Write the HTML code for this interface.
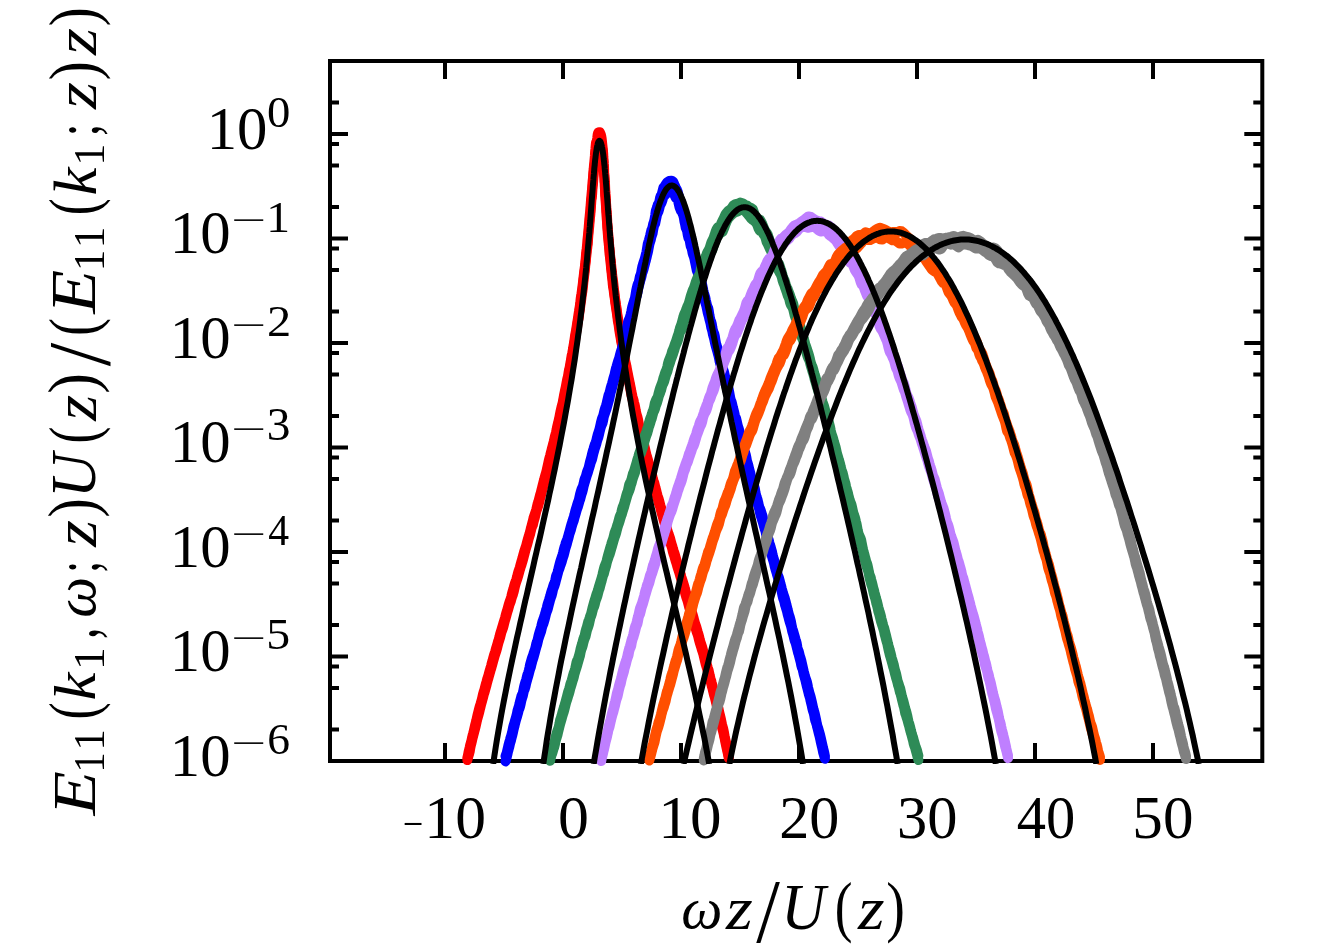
<!DOCTYPE html>
<html><head><meta charset="utf-8"><title>plot</title>
<style>html,body{margin:0;padding:0;background:#fff;}svg{display:block;}</style></head>
<body><svg width="1336" height="944" viewBox="0 0 1336 944">
<defs><clipPath id="ax"><rect x="330" y="0" width="932.3" height="764"/></clipPath></defs>
<rect width="1336" height="944" fill="#fff"/>
<rect x="330" y="61" width="932.3" height="700" fill="none" stroke="#000" stroke-width="4"/>
<path d="M445.0 761.0 V743.0 M445.0 61.0 V79.0 M563.0 761.0 V743.0 M563.0 61.0 V79.0 M681.0 761.0 V743.0 M681.0 61.0 V79.0 M799.0 761.0 V743.0 M799.0 61.0 V79.0 M917.0 761.0 V743.0 M917.0 61.0 V79.0 M1035.0 761.0 V743.0 M1035.0 61.0 V79.0 M1153.0 761.0 V743.0 M1153.0 61.0 V79.0 M330.0 134.0 H348.0 M1262.3 134.0 H1244.3 M330.0 238.5 H348.0 M1262.3 238.5 H1244.3 M330.0 343.0 H348.0 M1262.3 343.0 H1244.3 M330.0 447.5 H348.0 M1262.3 447.5 H1244.3 M330.0 552.0 H348.0 M1262.3 552.0 H1244.3 M330.0 656.5 H348.0 M1262.3 656.5 H1244.3 M330.0 761.0 H348.0 M1262.3 761.0 H1244.3 M330.0 729.5 H339.0 M1262.3 729.5 H1253.3 M330.0 688.0 H339.0 M1262.3 688.0 H1253.3 M330.0 666.6 H339.0 M1262.3 666.6 H1253.3 M330.0 625.0 H339.0 M1262.3 625.0 H1253.3 M330.0 583.5 H339.0 M1262.3 583.5 H1253.3 M330.0 562.1 H339.0 M1262.3 562.1 H1253.3 M330.0 520.5 H339.0 M1262.3 520.5 H1253.3 M330.0 479.0 H339.0 M1262.3 479.0 H1253.3 M330.0 457.6 H339.0 M1262.3 457.6 H1253.3 M330.0 416.0 H339.0 M1262.3 416.0 H1253.3 M330.0 374.5 H339.0 M1262.3 374.5 H1253.3 M330.0 353.1 H339.0 M1262.3 353.1 H1253.3 M330.0 311.5 H339.0 M1262.3 311.5 H1253.3 M330.0 270.0 H339.0 M1262.3 270.0 H1253.3 M330.0 248.6 H339.0 M1262.3 248.6 H1253.3 M330.0 207.0 H339.0 M1262.3 207.0 H1253.3 M330.0 165.5 H339.0 M1262.3 165.5 H1253.3 M330.0 144.1 H339.0 M1262.3 144.1 H1253.3 M330.0 102.5 H339.0 M1262.3 102.5 H1253.3" stroke="#000" stroke-width="4" fill="none"/>
<g fill="none" stroke-width="10" stroke-linecap="round" stroke-linejoin="round"><path d="M467.4 757.6 L468.0 755.1 L468.5 752.4 L469.1 749.8 L469.7 747.3 L470.2 744.9 L470.8 743.0 L471.4 740.8 L472.0 738.0 L472.6 735.4 L473.2 733.3 L473.8 731.0 L474.4 728.2 L475.0 725.6 L475.6 723.4 L476.2 721.0 L476.8 718.2 L477.4 715.5 L478.1 712.8 L478.7 710.3 L479.3 708.1 L479.9 705.9 L480.6 703.7 L481.2 701.6 L481.9 699.3 L482.5 696.4 L483.2 693.5 L483.8 691.4 L484.5 689.5 L485.1 687.0 L485.8 684.2 L486.5 681.8 L487.1 679.4 L487.8 677.3 L488.5 675.2 L489.1 672.6 L489.8 670.3 L490.5 668.1 L491.2 665.5 L491.8 663.0 L492.5 660.7 L493.2 658.1 L493.9 655.5 L494.6 653.5 L495.3 651.3 L496.0 648.5 L496.7 646.3 L497.4 644.0 L498.0 641.6 L498.7 639.8 L499.4 637.1 L500.1 634.0 L500.8 631.8 L501.5 629.7 L502.2 627.2 L502.9 624.9 L503.6 622.5 L504.3 620.3 L505.0 618.0 L505.7 615.1 L506.4 612.6 L507.2 610.2 L507.9 607.7 L508.6 605.0 L509.3 602.7 L510.0 600.7 L510.7 598.8 L511.4 596.2 L512.1 593.1 L512.8 590.7 L513.5 588.4 L514.2 585.7 L514.9 583.4 L515.6 581.6 L516.3 579.6 L517.0 577.1 L517.7 574.2 L518.4 571.7 L519.1 569.6 L519.8 567.5 L520.5 564.8 L521.2 562.2 L521.9 559.9 L522.6 557.5 L523.3 554.8 L524.0 552.3 L524.7 550.0 L525.4 547.9 L526.1 545.9 L526.7 543.5 L527.4 540.9 L528.1 538.4 L528.8 536.0 L529.5 533.8 L530.2 531.3 L530.8 528.6 L531.5 526.0 L532.2 523.4 L532.9 520.6 L533.5 518.0 L534.2 516.0 L534.9 513.9 L535.5 512.1 L536.2 510.0 L536.9 507.0 L537.5 504.2 L538.2 502.2 L538.8 499.9 L539.5 497.3 L540.1 494.9 L540.8 492.8 L541.4 490.2 L542.1 487.4 L542.7 485.0 L543.3 482.6 L544.0 480.1 L544.6 477.7 L545.2 475.5 L545.9 473.3 L546.5 471.0 L547.1 468.2 L547.7 465.6 L548.3 462.9 L548.9 460.1 L549.5 457.9 L550.1 455.7 L550.7 453.2 L551.3 450.9 L551.9 448.5 L552.5 446.3 L553.1 444.0 L553.7 441.7 L554.3 439.1 L554.9 436.4 L555.4 434.7 L556.0 432.5 L556.6 429.6 L557.1 426.8 L557.7 424.3 L558.3 421.9 L558.8 419.8 L559.4 417.2 L559.9 414.5 L560.4 411.9 L561.0 409.3 L561.5 407.1 L562.0 405.2 L562.6 402.9 L563.1 400.4 L563.6 397.7 L564.1 394.9 L564.6 392.4 L565.1 390.0 L565.6 387.7 L566.1 385.2 L566.6 382.5 L567.1 379.8 L567.6 377.8 L568.1 375.9 L568.5 373.0 L569.0 370.2 L569.5 368.4 L569.9 366.0 L570.4 363.0 L570.9 360.4 L571.3 357.8 L571.7 355.3 L572.2 353.4 L572.6 351.1 L573.1 348.4 L573.5 345.8 L573.9 343.5 L574.3 340.9 L574.7 338.3 L575.1 335.5 L575.5 333.3 L575.9 331.4 L576.3 328.8 L576.7 326.3 L577.1 323.7 L577.5 321.0 L577.9 318.7 L578.2 316.4 L578.6 313.8 L579.0 311.3 L579.3 309.1 L579.7 307.0 L580.0 304.5 L580.4 301.6 L580.7 298.5 L581.1 296.0 L581.4 294.3 L581.7 292.1 L582.1 289.3 L582.4 286.9 L582.7 284.6 L583.0 282.2 L583.3 279.5 L583.6 276.9 L583.9 274.4 L584.2 271.6 L584.5 269.3 L584.8 267.2 L585.1 265.0 L585.3 262.9 L585.6 259.9 L585.9 256.1 L586.1 253.3 L586.4 251.4 L586.7 248.8 L586.9 246.6 L587.2 244.1 L587.4 240.6 L587.7 237.8 L587.9 236.2 L588.1 234.1 L588.4 231.5 L588.6 228.8 L588.8 225.8 L589.1 223.1 L589.3 220.9 L589.5 218.1 L589.7 215.6 L589.9 213.8 L590.2 211.7 L590.4 208.9 L590.6 205.9 L590.8 203.1 L591.0 200.5 L591.2 198.2 L591.4 196.0 L591.6 193.6 L591.8 191.4 L592.0 189.7 L592.2 187.2 L592.4 183.8 L592.6 181.3 L592.9 178.9 L593.1 175.7 L593.3 172.7 L593.5 170.6 L593.7 168.9 L593.9 166.3 L594.2 163.5 L594.4 161.2 L594.6 159.2 L594.9 155.6 L595.1 151.7 L595.4 149.0 L595.7 145.6 L596.0 142.6 L596.4 142.2 L596.7 141.6 L597.2 138.4 L597.7 134.5 L598.3 132.5 L599.8 132.2 L600.8 134.5 L601.3 136.5 L601.7 138.9 L602.0 141.8 L602.3 144.8 L602.6 147.3 L602.8 149.1 L603.0 151.2 L603.2 153.9 L603.3 156.8 L603.5 159.3 L603.7 161.3 L603.8 163.8 L604.0 166.4 L604.1 169.1 L604.2 173.0 L604.4 175.7 L604.5 177.4 L604.7 180.0 L604.8 181.7 L605.0 183.3 L605.1 186.5 L605.2 189.7 L605.4 191.9 L605.5 194.1 L605.7 196.7 L605.8 199.9 L606.0 202.9 L606.2 205.3 L606.3 207.8 L606.5 210.5 L606.6 212.3 L606.8 214.1 L607.0 216.8 L607.2 220.4 L607.3 223.5 L607.5 225.7 L607.7 228.0 L607.9 230.2 L608.1 232.5 L608.3 234.8 L608.5 237.3 L608.7 240.3 L609.0 243.3 L609.2 245.6 L609.4 247.5 L609.6 249.6 L609.9 252.4 L610.1 255.7 L610.4 258.1 L610.6 260.1 L610.9 262.1 L611.1 264.4 L611.4 267.4 L611.7 270.3 L611.9 272.5 L612.2 274.8 L612.5 277.4 L612.8 279.6 L613.1 281.8 L613.4 284.4 L613.7 287.2 L614.0 290.0 L614.4 292.4 L614.7 295.3 L615.0 298.1 L615.3 299.9 L615.7 302.1 L616.0 304.8 L616.4 307.2 L616.7 309.5 L617.1 312.7 L617.5 315.6 L617.8 317.5 L618.2 319.4 L618.6 321.8 L619.0 324.4 L619.4 326.5 L619.8 329.2 L620.2 332.2 L620.6 334.7 L621.0 337.6 L621.4 340.3 L621.9 342.5 L622.3 345.1 L622.7 347.7 L623.2 349.6 L623.6 351.3 L624.1 353.7 L624.5 356.8 L625.0 359.9 L625.5 362.1 L625.9 363.8 L626.4 366.0 L626.9 368.8 L627.4 371.5 L627.9 374.0 L628.4 376.5 L628.9 379.0 L629.4 381.3 L629.9 383.7 L630.4 386.3 L630.9 388.8 L631.4 391.6 L632.0 394.4 L632.5 396.6 L633.0 398.3 L633.6 400.4 L634.1 402.8 L634.7 404.9 L635.2 407.5 L635.8 410.8 L636.4 413.5 L636.9 415.3 L637.5 417.3 L638.1 419.9 L638.6 422.6 L639.2 425.8 L639.8 428.6 L640.4 430.5 L641.0 432.1 L641.6 434.4 L642.2 437.2 L642.8 439.6 L643.4 441.9 L644.0 444.3 L644.6 446.9 L645.3 449.9 L645.9 452.7 L646.5 454.9 L647.1 456.9 L647.8 459.3 L648.4 461.6 L649.0 463.8 L649.7 466.1 L650.3 468.1 L651.0 470.7 L651.6 473.7 L652.3 476.2 L652.9 478.8 L653.6 481.0 L654.3 482.8 L654.9 485.3 L655.6 488.2 L656.3 490.7 L656.9 493.1 L657.6 495.8 L658.3 497.9 L658.9 499.7 L659.6 502.3 L660.3 505.2 L661.0 507.4 L661.7 509.5 L662.4 512.5 L663.1 515.3 L663.7 517.6 L664.4 519.5 L665.1 521.5 L665.8 524.3 L666.5 527.3 L667.2 529.7 L667.9 531.9 L668.6 534.0 L669.3 535.9 L670.0 538.1 L670.7 540.8 L671.4 543.5 L672.2 545.8 L672.9 548.5 L673.6 550.8 L674.3 552.7 L675.0 555.0 L675.7 557.6 L676.4 560.1 L677.1 562.3 L677.8 564.6 L678.5 567.0 L679.3 569.2 L680.0 571.6 L680.7 574.6 L681.4 577.1 L682.1 579.1 L682.8 581.5 L683.5 583.8 L684.3 586.3 L685.0 589.1 L685.7 591.6 L686.4 594.1 L687.1 596.3 L687.8 598.6 L688.5 600.9 L689.2 603.2 L689.9 605.8 L690.7 608.3 L691.4 610.8 L692.1 612.9 L692.8 615.0 L693.5 617.6 L694.2 620.4 L694.9 622.8 L695.6 624.8 L696.3 626.9 L697.0 629.3 L697.7 631.9 L698.4 634.0 L699.0 636.2 L699.7 639.3 L700.4 641.9 L701.1 643.7 L701.8 645.9 L702.5 648.4 L703.2 651.0 L703.8 653.6 L704.5 655.9 L705.2 658.4 L705.8 661.0 L706.5 663.4 L707.2 665.7 L707.8 667.8 L708.5 669.8 L709.1 672.6 L709.8 675.8 L710.4 678.2 L711.1 680.4 L711.7 682.8 L712.4 685.3 L713.0 688.0 L713.6 690.5 L714.2 692.2 L714.9 694.0 L715.5 696.5 L716.1 699.2 L716.7 702.3 L717.3 704.8 L717.9 706.6 L718.5 708.7 L719.1 711.7 L719.7 714.2 L720.2 716.1 L720.8 718.7 L721.4 721.5 L721.9 724.0 L722.5 726.2 L723.1 728.4 L723.6 730.6 L724.1 733.4 L724.7 736.7 L725.2 739.1 L725.7 741.0 L726.2 742.9 L726.8 745.2 L727.3 748.0 L727.8 750.8 L728.2 753.3 L728.7 755.8" stroke="#ff0000"/><path d="M467.4 760.1 L468.0 757.8 L468.5 755.8 L469.1 753.9 L469.7 751.6 L470.2 748.5 L470.8 745.6 L471.4 743.2 L472.0 740.7 L472.6 738.2 L473.2 735.8 L473.8 733.5 L474.4 731.3 L475.0 729.0 L475.6 726.5 L476.2 723.9 L476.8 721.2 L477.4 718.7 L478.1 716.4 L478.7 714.2 L479.3 711.9 L479.9 709.3 L480.6 706.7 L481.2 704.2 L481.9 701.7 L482.5 699.4 L483.2 696.9 L483.8 694.3 L484.5 692.3 L485.1 690.2 L485.8 687.7 L486.5 685.1 L487.1 682.6 L487.8 680.1 L488.5 677.8 L489.1 675.5 L489.8 673.1 L490.5 670.6 L491.2 668.4 L491.8 666.2 L492.5 663.6 L493.2 661.2 L493.9 658.7 L494.6 656.1 L495.3 654.0 L496.0 651.9 L496.7 649.5 L497.4 647.0 L498.0 644.3 L498.7 642.0 L499.4 639.9 L500.1 637.6 L500.8 634.8 L501.5 632.1 L502.2 630.2 L502.9 628.3 L503.6 625.9 L504.3 622.9 L505.0 620.2 L505.7 618.1 L506.4 615.4 L507.2 612.5 L507.9 610.3 L508.6 607.8 L509.3 605.3 L510.0 603.5 L510.7 601.6 L511.4 599.0 L512.1 596.8 L512.8 595.0 L513.5 592.5 L514.2 589.5 L514.9 586.6 L515.6 583.9 L516.3 581.7 L517.0 579.8 L517.7 577.5 L518.4 575.2 L519.1 572.7 L519.8 570.0 L520.5 567.7 L521.2 565.7 L521.9 563.4 L522.6 561.0 L523.3 558.4 L524.0 555.7 L524.7 553.2 L525.4 550.3 L526.1 547.9 L526.7 546.0 L527.4 543.8 L528.1 541.1 L528.8 538.3 L529.5 536.0 L530.2 533.7 L530.8 530.9 L531.5 528.3 L532.2 526.5 L532.9 524.8 L533.5 522.2 L534.2 519.5 L534.9 517.2 L535.5 514.6 L536.2 511.6 L536.9 509.6 L537.5 507.9 L538.2 505.8 L538.8 503.7 L539.5 501.1 L540.1 498.3 L540.8 495.8 L541.4 493.3 L542.1 490.6 L542.7 488.3 L543.3 486.5 L544.0 484.2 L544.6 481.3 L545.2 478.6 L545.9 476.5 L546.5 474.3 L547.1 471.8 L547.7 469.3 L548.3 466.4 L548.9 463.8 L549.5 461.7 L550.1 459.6 L550.7 457.0 L551.3 453.9 L551.9 451.4 L552.5 449.4 L553.1 446.7 L553.7 444.2 L554.3 442.4 L554.9 440.2 L555.4 437.5 L556.0 435.0 L556.6 432.7 L557.1 430.4 L557.7 427.8 L558.3 424.9 L558.8 422.3 L559.4 420.1 L559.9 417.8 L560.4 415.6 L561.0 413.1 L561.5 410.3 L562.0 407.9 L562.6 405.7 L563.1 403.4 L563.6 400.7 L564.1 398.3 L564.6 396.7 L565.1 394.8 L565.6 392.1 L566.1 389.0 L566.6 386.5 L567.1 384.2 L567.6 381.3 L568.1 378.4 L568.5 376.3 L569.0 373.9 L569.5 370.9 L569.9 367.9 L570.4 365.8 L570.9 363.9 L571.3 361.4 L571.7 359.0 L572.2 356.8 L572.6 354.4 L573.1 351.8 L573.5 349.3 L573.9 346.5 L574.3 343.9 L574.7 341.7 L575.1 339.7 L575.5 337.1 L575.9 334.2 L576.3 331.8 L576.7 329.6 L577.1 327.1 L577.5 324.0 L577.9 321.4 L578.2 319.9 L578.6 318.4 L579.0 315.7 L579.3 312.6 L579.7 310.5 L580.0 308.3 L580.4 305.2 L580.7 302.5 L581.1 300.5 L581.4 298.1 L581.7 295.3 L582.1 292.9 L582.4 291.1 L582.7 288.9 L583.0 285.9 L583.3 282.7 L583.6 279.7 L583.9 277.6 L584.2 275.4 L584.5 273.1 L584.8 270.7 L585.1 267.5 L585.3 264.7 L585.6 262.6 L585.9 260.1 L586.1 257.6 L586.4 255.1 L586.7 252.2 L586.9 249.7 L587.2 248.2 L587.4 246.3 L587.7 244.2 L587.9 241.9 L588.1 238.3 L588.4 234.7 L588.6 232.1 L588.8 229.9 L589.1 227.8 L589.3 225.3 L589.5 222.5 L589.7 220.2 L589.9 217.9 L590.2 215.7 L590.4 213.5 L590.6 210.8 L590.8 208.3 L591.0 205.7 L591.2 202.7 L591.4 200.1 L591.6 198.8 L591.8 197.8 L592.0 195.8 L592.2 192.9 L592.4 189.5 L592.6 186.7 L592.9 184.6 L593.1 181.9 L593.3 178.9 L593.5 176.4 L593.7 174.0 L593.9 171.4 L594.2 168.7 L594.4 166.0 L594.6 164.5 L594.9 163.3 L595.1 160.1 L595.4 157.0 L595.7 155.2 L596.0 152.5 L596.4 149.1 L596.7 147.1 L597.2 145.7 L597.7 143.2 L598.3 141.0 L599.8 139.6 L600.8 140.9 L601.3 142.8 L601.7 145.8 L602.0 148.2 L602.3 149.3 L602.6 151.5 L602.8 154.9 L603.0 158.2 L603.2 161.3 L603.3 163.3 L603.5 164.8 L603.7 167.4 L603.8 169.8 L604.0 172.1 L604.1 174.8 L604.2 176.3 L604.4 178.2 L604.5 181.0 L604.7 183.6 L604.8 186.5 L605.0 189.8 L605.1 192.9 L605.2 195.5 L605.4 197.0 L605.5 198.4 L605.7 200.9 L605.8 203.5 L606.0 206.2 L606.2 209.2 L606.3 211.2 L606.5 213.4 L606.6 216.6 L606.8 219.5 L607.0 221.9 L607.2 224.5 L607.3 227.1 L607.5 229.6 L607.7 232.4 L607.9 234.7 L608.1 237.0 L608.3 239.0 L608.5 240.9 L608.7 243.6 L609.0 246.4 L609.2 248.7 L609.4 251.3 L609.6 254.4 L609.9 256.5 L610.1 258.0 L610.4 260.3 L610.6 263.3 L610.9 266.0 L611.1 268.5 L611.4 271.0 L611.7 273.6 L611.9 276.1 L612.2 278.5 L612.5 281.2 L612.8 284.5 L613.1 287.1 L613.4 288.6 L613.7 290.5 L614.0 293.2 L614.4 295.9 L614.7 298.0 L615.0 300.5 L615.3 303.1 L615.7 305.3 L616.0 307.7 L616.4 310.0 L616.7 312.1 L617.1 314.7 L617.5 317.8 L617.8 320.6 L618.2 322.7 L618.6 324.8 L619.0 327.7 L619.4 330.8 L619.8 333.3 L620.2 335.3 L620.6 337.7 L621.0 340.3 L621.4 342.5 L621.9 344.6 L622.3 347.5 L622.7 350.6 L623.2 353.2 L623.6 355.5 L624.1 357.8 L624.5 360.2 L625.0 362.4 L625.5 365.2 L625.9 368.4 L626.4 370.5 L626.9 372.2 L627.4 374.7 L627.9 377.5 L628.4 380.0 L628.9 381.8 L629.4 383.7 L629.9 386.5 L630.4 389.4 L630.9 392.1 L631.4 394.8 L632.0 397.2 L632.5 399.3 L633.0 401.5 L633.6 404.5 L634.1 407.5 L634.7 409.6 L635.2 411.6 L635.8 414.2 L636.4 416.7 L636.9 418.6 L637.5 421.0 L638.1 423.8 L638.6 426.2 L639.2 428.4 L639.8 430.8 L640.4 433.2 L641.0 435.6 L641.6 437.9 L642.2 440.1 L642.8 442.9 L643.4 445.5 L644.0 447.5 L644.6 450.1 L645.3 452.6 L645.9 454.8 L646.5 457.2 L647.1 459.7 L647.8 462.9 L648.4 466.1 L649.0 468.2 L649.7 469.9 L650.3 472.2 L651.0 474.6 L651.6 477.1 L652.3 479.5 L652.9 481.6 L653.6 484.1 L654.3 486.8 L654.9 489.3 L655.6 491.4 L656.3 493.5 L656.9 496.2 L657.6 498.8 L658.3 501.1 L658.9 503.4 L659.6 505.2 L660.3 507.4 L661.0 510.6 L661.7 513.3 L662.4 515.5 L663.1 517.9 L663.7 520.4 L664.4 522.4 L665.1 524.6 L665.8 527.3 L666.5 529.8 L667.2 532.0 L667.9 534.6 L668.6 536.7 L669.3 539.0 L670.0 541.9 L670.7 544.1 L671.4 546.0 L672.2 548.7 L672.9 551.8 L673.6 554.2 L674.3 556.2 L675.0 558.7 L675.7 561.1 L676.4 563.2 L677.1 565.7 L677.8 568.0 L678.5 570.2 L679.3 572.6 L680.0 575.2 L680.7 577.6 L681.4 579.8 L682.1 582.4 L682.8 585.2 L683.5 587.7 L684.3 590.2 L685.0 592.7 L685.7 595.2 L686.4 597.6 L687.1 599.5 L687.8 601.7 L688.5 604.4 L689.2 607.3 L689.9 609.4 L690.7 610.7 L691.4 613.1 L692.1 616.2 L692.8 618.9 L693.5 621.2 L694.2 623.4 L694.9 625.9 L695.6 628.3 L696.3 630.7 L697.0 632.8 L697.7 634.7 L698.4 637.3 L699.0 639.9 L699.7 642.5 L700.4 644.7 L701.1 646.9 L701.8 649.4 L702.5 651.6 L703.2 653.7 L703.8 656.2 L704.5 659.1 L705.2 662.0 L705.8 664.5 L706.5 666.8 L707.2 669.2 L707.8 671.5 L708.5 673.8 L709.1 676.5 L709.8 678.9 L710.4 681.0 L711.1 683.2 L711.7 685.7 L712.4 688.0 L713.0 690.5 L713.6 693.2 L714.2 695.6 L714.9 697.8 L715.5 700.2 L716.1 702.8 L716.7 705.3 L717.3 707.8 L717.9 710.7 L718.5 713.2 L719.1 715.7 L719.7 717.8 L720.2 719.6 L720.8 722.0 L721.4 724.7 L721.9 727.1 L722.5 729.4 L723.1 731.5 L723.6 733.6 L724.1 736.0 L724.7 738.5 L725.2 741.3 L725.7 743.8 L726.2 746.2 L726.8 748.9 L727.3 751.3 L727.8 753.2 L728.2 755.3 L728.7 758.2" stroke="#ff0000"/><path d="M505.5 756.2 L506.2 754.3 L506.8 752.6 L507.4 749.9 L508.0 747.3 L508.6 744.7 L509.2 742.4 L509.9 740.1 L510.5 737.8 L511.1 736.0 L511.7 733.8 L512.4 731.0 L513.0 728.0 L513.6 725.5 L514.3 723.3 L514.9 721.1 L515.6 718.7 L516.2 716.5 L516.9 713.9 L517.5 710.7 L518.2 708.4 L518.8 706.6 L519.5 703.8 L520.1 701.1 L520.8 698.6 L521.4 696.1 L522.1 694.6 L522.8 693.2 L523.4 690.2 L524.1 686.7 L524.8 684.0 L525.4 682.1 L526.1 680.0 L526.8 677.2 L527.4 674.8 L528.1 673.0 L528.8 670.7 L529.5 667.6 L530.1 664.6 L530.8 662.0 L531.5 659.5 L532.2 657.3 L532.9 655.5 L533.6 653.4 L534.2 651.4 L534.9 649.7 L535.6 646.8 L536.3 643.7 L537.0 641.7 L537.7 639.5 L538.4 636.3 L539.1 633.6 L539.8 631.2 L540.5 629.0 L541.2 626.7 L541.9 623.6 L542.6 621.1 L543.3 619.4 L544.0 617.2 L544.7 615.0 L545.4 612.6 L546.1 610.3 L546.8 607.7 L547.5 604.7 L548.2 602.3 L548.9 600.3 L549.6 598.1 L550.3 595.7 L551.0 592.9 L551.7 590.6 L552.4 588.8 L553.1 586.3 L553.9 584.0 L554.6 582.5 L555.3 580.0 L556.0 576.5 L556.7 574.5 L557.4 573.0 L558.1 570.3 L558.8 567.2 L559.5 564.4 L560.2 561.8 L561.0 559.4 L561.7 557.2 L562.4 555.1 L563.1 552.5 L563.8 549.6 L564.5 547.1 L565.2 544.9 L565.9 542.5 L566.7 540.5 L567.4 538.7 L568.1 536.3 L568.8 533.7 L569.5 531.3 L570.2 528.7 L570.9 526.1 L571.6 523.8 L572.4 521.4 L573.1 519.0 L573.8 516.9 L574.5 514.3 L575.2 511.4 L575.9 508.9 L576.6 506.6 L577.3 504.3 L578.0 502.2 L578.8 500.0 L579.5 496.8 L580.2 493.6 L580.9 491.3 L581.6 489.1 L582.3 487.5 L583.0 486.0 L583.7 483.2 L584.4 479.9 L585.1 477.9 L585.8 476.5 L586.5 473.9 L587.2 471.3 L587.9 469.6 L588.6 467.8 L589.3 464.9 L590.0 461.8 L590.7 459.3 L591.4 456.8 L592.1 453.7 L592.8 451.1 L593.5 448.9 L594.2 446.5 L594.9 444.3 L595.6 442.7 L596.3 440.6 L597.0 437.4 L597.7 434.6 L598.4 432.5 L599.1 430.5 L599.7 428.1 L600.4 425.1 L601.1 421.9 L601.8 419.2 L602.5 417.3 L603.2 415.6 L603.8 413.1 L604.5 410.2 L605.2 407.9 L605.9 406.0 L606.6 403.6 L607.2 400.9 L607.9 398.0 L608.6 395.0 L609.3 393.2 L609.9 391.4 L610.6 388.2 L611.3 385.9 L611.9 384.1 L612.6 381.4 L613.3 378.8 L613.9 376.7 L614.6 374.5 L615.2 371.6 L615.9 368.6 L616.6 366.4 L617.2 364.2 L617.9 361.9 L618.5 360.1 L619.2 358.2 L619.8 355.6 L620.5 352.9 L621.1 350.9 L621.8 349.0 L622.4 346.7 L623.1 344.0 L623.7 340.8 L624.3 338.2 L625.0 335.7 L625.6 332.8 L626.2 330.4 L626.9 328.0 L627.5 325.1 L628.1 322.1 L628.8 320.0 L629.4 318.6 L630.0 317.0 L630.6 314.6 L631.3 311.5 L631.9 308.5 L632.5 306.0 L633.1 303.9 L633.8 301.7 L634.4 299.9 L635.0 297.9 L635.6 294.3 L636.2 290.5 L636.8 287.8 L637.4 285.3 L638.0 283.6 L638.7 282.5 L639.3 279.6 L639.9 276.4 L640.5 275.0 L641.1 273.1 L641.7 269.7 L642.3 266.6 L642.9 264.5 L643.5 262.7 L644.1 260.9 L644.7 259.0 L645.3 256.7 L645.9 254.3 L646.5 251.8 L647.1 248.1 L647.7 244.2 L648.3 242.1 L648.9 240.3 L649.5 238.0 L650.1 235.7 L650.8 232.6 L651.4 230.1 L652.0 229.0 L652.6 226.7 L653.2 223.9 L653.9 221.9 L654.5 219.5 L655.2 215.3 L655.8 210.9 L656.5 208.9 L657.1 207.1 L657.8 204.8 L658.5 203.7 L659.3 201.9 L660.0 198.1 L660.8 195.7 L661.6 194.8 L662.5 191.2 L663.4 187.6 L664.5 186.4 L665.7 184.5 L667.2 182.2 L669.2 181.0 L671.6 180.7 L673.3 181.9 L674.7 185.2 L675.9 187.9 L676.9 189.7 L677.8 192.1 L678.7 195.9 L679.5 199.2 L680.3 200.6 L681.0 202.7 L681.8 204.7 L682.5 206.8 L683.2 210.1 L683.9 213.2 L684.5 215.6 L685.2 217.0 L685.8 218.3 L686.5 220.9 L687.1 224.3 L687.7 227.5 L688.4 230.3 L689.0 232.5 L689.6 235.3 L690.2 237.8 L690.8 238.7 L691.4 239.6 L692.0 241.5 L692.6 245.1 L693.2 248.8 L693.8 251.3 L694.4 254.2 L695.0 257.3 L695.6 260.1 L696.2 262.0 L696.8 263.4 L697.4 265.5 L698.0 268.2 L698.6 270.5 L699.2 272.7 L699.8 275.8 L700.4 278.4 L701.0 279.9 L701.6 282.2 L702.2 284.8 L702.8 287.8 L703.4 290.8 L704.0 293.1 L704.6 295.1 L705.2 297.1 L705.8 300.0 L706.4 302.6 L707.0 305.1 L707.6 306.8 L708.2 308.1 L708.8 311.1 L709.4 315.0 L710.0 318.2 L710.6 320.2 L711.2 321.8 L711.8 324.1 L712.4 327.8 L713.0 330.7 L713.6 332.2 L714.2 333.6 L714.8 335.9 L715.4 339.9 L716.0 343.4 L716.6 345.4 L717.3 347.4 L717.9 349.2 L718.5 351.2 L719.1 353.8 L719.7 355.8 L720.3 358.2 L721.0 361.3 L721.6 364.1 L722.2 366.4 L722.8 368.4 L723.4 370.1 L724.1 372.3 L724.7 375.1 L725.3 377.3 L725.9 379.3 L726.6 381.8 L727.2 384.3 L727.8 386.4 L728.5 388.6 L729.1 391.5 L729.7 394.8 L730.3 398.2 L731.0 400.6 L731.6 401.9 L732.2 404.3 L732.9 407.4 L733.5 409.6 L734.2 412.2 L734.8 415.1 L735.4 416.8 L736.1 418.3 L736.7 420.9 L737.4 424.0 L738.0 426.5 L738.6 428.2 L739.3 430.7 L739.9 434.0 L740.6 436.5 L741.2 438.6 L741.9 441.4 L742.5 443.5 L743.1 445.2 L743.8 447.9 L744.4 450.8 L745.1 452.5 L745.7 454.4 L746.4 457.6 L747.0 461.1 L747.7 463.2 L748.3 465.2 L749.0 468.1 L749.6 470.4 L750.3 473.0 L750.9 475.9 L751.6 478.1 L752.3 479.8 L752.9 481.9 L753.6 484.5 L754.2 486.3 L754.9 488.8 L755.5 492.7 L756.2 495.6 L756.8 497.5 L757.5 499.4 L758.2 502.3 L758.8 505.3 L759.5 507.4 L760.1 508.8 L760.8 510.6 L761.4 512.8 L762.1 514.7 L762.8 517.2 L763.4 520.3 L764.1 522.8 L764.7 525.4 L765.4 528.4 L766.1 531.6 L766.7 533.9 L767.4 535.9 L768.0 538.1 L768.7 540.0 L769.3 542.5 L770.0 545.0 L770.7 547.0 L771.3 549.2 L772.0 551.6 L772.6 554.8 L773.3 557.6 L774.0 559.5 L774.6 561.6 L775.3 563.7 L775.9 565.8 L776.6 568.7 L777.2 572.4 L777.9 575.4 L778.6 576.9 L779.2 578.7 L779.9 581.3 L780.5 583.8 L781.2 586.4 L781.8 588.8 L782.5 591.2 L783.1 593.5 L783.8 595.5 L784.5 597.4 L785.1 599.6 L785.8 602.1 L786.4 604.6 L787.1 607.2 L787.7 609.8 L788.4 612.5 L789.0 614.9 L789.7 616.7 L790.3 619.0 L791.0 621.8 L791.6 625.1 L792.2 628.1 L792.9 630.1 L793.5 632.2 L794.2 634.6 L794.8 636.7 L795.5 639.3 L796.1 641.0 L796.7 643.3 L797.4 647.3 L798.0 649.8 L798.7 651.2 L799.3 653.5 L799.9 656.1 L800.6 658.2 L801.2 660.2 L801.8 662.9 L802.5 665.9 L803.1 668.6 L803.7 671.2 L804.4 673.8 L805.0 676.3 L805.6 678.1 L806.2 679.9 L806.9 681.7 L807.5 684.5 L808.1 687.7 L808.7 690.0 L809.3 692.4 L810.0 694.7 L810.6 696.7 L811.2 699.2 L811.8 701.7 L812.4 704.4 L813.0 707.3 L813.6 709.7 L814.2 711.5 L814.8 713.8 L815.4 716.6 L816.0 719.3 L816.6 722.4 L817.2 725.4 L817.8 727.2 L818.4 728.9 L819.0 731.0 L819.6 733.1 L820.2 735.3 L820.8 737.8 L821.4 740.5 L822.0 743.3 L822.6 745.9 L823.1 748.2 L823.7 750.3 L824.3 752.9 L824.9 756.0" stroke="#0000ff"/><path d="M505.5 761.4 L506.2 759.4 L506.8 757.0 L507.4 754.3 L508.0 751.5 L508.6 749.5 L509.2 747.3 L509.9 744.2 L510.5 742.0 L511.1 740.0 L511.7 737.3 L512.4 734.8 L513.0 732.3 L513.6 729.4 L514.3 726.8 L514.9 724.1 L515.6 721.5 L516.2 719.3 L516.9 717.1 L517.5 715.0 L518.2 712.4 L518.8 709.9 L519.5 708.4 L520.1 706.3 L520.8 703.3 L521.4 700.4 L522.1 698.0 L522.8 695.9 L523.4 693.1 L524.1 690.3 L524.8 688.9 L525.4 686.9 L526.1 683.6 L526.8 681.2 L527.4 679.0 L528.1 676.6 L528.8 674.2 L529.5 671.3 L530.1 669.2 L530.8 667.3 L531.5 664.4 L532.2 661.7 L532.9 659.3 L533.6 657.2 L534.2 655.0 L534.9 652.4 L535.6 649.8 L536.3 647.2 L537.0 645.0 L537.7 642.2 L538.4 639.1 L539.1 637.1 L539.8 634.9 L540.5 633.0 L541.2 631.0 L541.9 627.9 L542.6 625.5 L543.3 623.9 L544.0 621.7 L544.7 619.4 L545.4 616.5 L546.1 613.5 L546.8 611.5 L547.5 609.8 L548.2 607.3 L548.9 604.5 L549.6 601.9 L550.3 599.3 L551.0 597.2 L551.7 595.4 L552.4 592.5 L553.1 589.3 L553.9 587.2 L554.6 585.4 L555.3 583.1 L556.0 580.2 L556.7 577.6 L557.4 575.0 L558.1 572.1 L558.8 570.0 L559.5 568.3 L560.2 566.0 L561.0 563.9 L561.7 561.9 L562.4 559.3 L563.1 557.0 L563.8 555.0 L564.5 552.2 L565.2 549.3 L565.9 547.1 L566.7 544.5 L567.4 541.7 L568.1 539.4 L568.8 536.7 L569.5 533.9 L570.2 531.8 L570.9 529.8 L571.6 527.0 L572.4 524.3 L573.1 522.3 L573.8 520.4 L574.5 517.8 L575.2 515.3 L575.9 513.0 L576.6 510.4 L577.3 508.4 L578.0 506.5 L578.8 503.6 L579.5 501.1 L580.2 499.2 L580.9 496.5 L581.6 493.9 L582.3 492.0 L583.0 489.3 L583.7 486.0 L584.4 483.4 L585.1 481.2 L585.8 478.8 L586.5 476.5 L587.2 474.4 L587.9 472.3 L588.6 469.8 L589.3 467.7 L590.0 465.4 L590.7 462.8 L591.4 460.9 L592.1 459.1 L592.8 456.2 L593.5 453.2 L594.2 450.6 L594.9 448.2 L595.6 446.3 L596.3 444.1 L597.0 441.2 L597.7 439.0 L598.4 437.0 L599.1 434.3 L599.7 431.5 L600.4 428.8 L601.1 426.3 L601.8 424.7 L602.5 423.0 L603.2 420.0 L603.8 416.9 L604.5 414.6 L605.2 412.6 L605.9 410.6 L606.6 408.6 L607.2 406.5 L607.9 404.0 L608.6 401.5 L609.3 398.9 L609.9 395.9 L610.6 392.8 L611.3 390.6 L611.9 388.5 L612.6 385.6 L613.3 382.9 L613.9 381.2 L614.6 379.0 L615.2 376.3 L615.9 373.9 L616.6 371.8 L617.2 369.3 L617.9 366.2 L618.5 363.9 L619.2 362.2 L619.8 359.9 L620.5 357.1 L621.1 354.4 L621.8 352.0 L622.4 350.3 L623.1 348.2 L623.7 345.6 L624.3 343.8 L625.0 341.4 L625.6 338.4 L626.2 335.7 L626.9 332.3 L627.5 329.2 L628.1 327.2 L628.8 325.5 L629.4 323.3 L630.0 321.0 L630.6 318.3 L631.3 315.5 L631.9 313.4 L632.5 310.9 L633.1 308.4 L633.8 306.2 L634.4 303.3 L635.0 300.7 L635.6 298.7 L636.2 297.2 L636.8 295.5 L637.4 292.8 L638.0 289.5 L638.7 286.6 L639.3 284.6 L639.9 282.3 L640.5 279.8 L641.1 278.2 L641.7 275.6 L642.3 272.8 L642.9 271.3 L643.5 269.5 L644.1 267.1 L644.7 264.7 L645.3 262.3 L645.9 260.4 L646.5 257.9 L647.1 255.1 L647.7 252.9 L648.3 250.1 L648.9 246.8 L649.5 243.8 L650.1 242.0 L650.8 239.8 L651.4 237.0 L652.0 235.2 L652.6 233.4 L653.2 229.8 L653.9 226.2 L654.5 224.8 L655.2 223.4 L655.8 220.5 L656.5 217.2 L657.1 214.3 L657.8 213.0 L658.5 211.5 L659.3 208.7 L660.0 205.7 L660.8 204.1 L661.6 202.6 L662.5 200.0 L663.4 196.7 L664.5 195.4 L665.7 194.7 L667.2 191.1 L669.2 188.5 L671.6 189.1 L673.3 191.3 L674.7 195.5 L675.9 198.0 L676.9 197.7 L677.8 199.2 L678.7 203.7 L679.5 207.2 L680.3 209.3 L681.0 210.9 L681.8 211.9 L682.5 213.4 L683.2 215.0 L683.9 217.9 L684.5 221.6 L685.2 224.8 L685.8 228.0 L686.5 229.5 L687.1 231.0 L687.7 234.6 L688.4 237.8 L689.0 238.9 L689.6 240.0 L690.2 243.4 L690.8 246.4 L691.4 247.7 L692.0 249.8 L692.6 253.1 L693.2 255.1 L693.8 256.5 L694.4 258.8 L695.0 261.6 L695.6 264.6 L696.2 267.6 L696.8 270.5 L697.4 272.1 L698.0 273.5 L698.6 276.6 L699.2 279.9 L699.8 282.3 L700.4 284.4 L701.0 285.9 L701.6 288.1 L702.2 290.9 L702.8 292.3 L703.4 294.4 L704.0 298.0 L704.6 300.4 L705.2 302.2 L705.8 304.1 L706.4 306.3 L707.0 309.0 L707.6 312.2 L708.2 314.5 L708.8 316.4 L709.4 319.3 L710.0 321.5 L710.6 323.9 L711.2 327.2 L711.8 329.2 L712.4 331.6 L713.0 334.7 L713.6 336.8 L714.2 339.1 L714.8 342.1 L715.4 344.7 L716.0 346.8 L716.6 349.0 L717.3 351.4 L717.9 353.8 L718.5 355.8 L719.1 358.5 L719.7 361.8 L720.3 364.0 L721.0 366.4 L721.6 369.4 L722.2 371.0 L722.8 372.8 L723.4 375.2 L724.1 377.6 L724.7 380.7 L725.3 383.3 L725.9 384.8 L726.6 386.9 L727.2 389.7 L727.8 392.0 L728.5 394.2 L729.1 396.5 L729.7 398.4 L730.3 401.0 L731.0 403.9 L731.6 406.5 L732.2 408.8 L732.9 411.1 L733.5 413.8 L734.2 416.2 L734.8 418.0 L735.4 420.0 L736.1 422.7 L736.7 425.6 L737.4 428.0 L738.0 430.8 L738.6 433.9 L739.3 436.7 L739.9 438.9 L740.6 440.4 L741.2 442.5 L741.9 445.5 L742.5 448.2 L743.1 450.6 L743.8 453.0 L744.4 455.6 L745.1 458.1 L745.7 460.3 L746.4 462.5 L747.0 464.8 L747.7 467.1 L748.3 469.7 L749.0 472.1 L749.6 474.5 L750.3 477.2 L750.9 479.5 L751.6 481.7 L752.3 483.9 L752.9 486.5 L753.6 489.3 L754.2 491.0 L754.9 492.6 L755.5 495.1 L756.2 498.4 L756.8 501.5 L757.5 503.8 L758.2 505.7 L758.8 507.7 L759.5 510.3 L760.1 513.4 L760.8 515.8 L761.4 517.7 L762.1 520.1 L762.8 522.3 L763.4 524.3 L764.1 526.8 L764.7 528.9 L765.4 531.0 L766.1 534.2 L766.7 537.0 L767.4 538.8 L768.0 541.2 L768.7 544.4 L769.3 547.0 L770.0 549.6 L770.7 551.9 L771.3 553.9 L772.0 556.2 L772.6 558.5 L773.3 560.7 L774.0 563.2 L774.6 565.9 L775.3 568.6 L775.9 570.7 L776.6 572.8 L777.2 575.2 L777.9 577.6 L778.6 579.7 L779.2 582.1 L779.9 584.7 L780.5 587.1 L781.2 589.5 L781.8 592.3 L782.5 595.6 L783.1 598.1 L783.8 599.9 L784.5 602.4 L785.1 605.2 L785.8 607.2 L786.4 609.2 L787.1 611.6 L787.7 614.4 L788.4 616.9 L789.0 619.4 L789.7 621.8 L790.3 623.7 L791.0 625.8 L791.6 628.5 L792.2 631.3 L792.9 633.4 L793.5 635.7 L794.2 638.7 L794.8 640.9 L795.5 642.6 L796.1 644.6 L796.7 647.1 L797.4 649.8 L798.0 652.4 L798.7 654.6 L799.3 656.9 L799.9 659.3 L800.6 661.9 L801.2 665.0 L801.8 667.4 L802.5 668.9 L803.1 671.3 L803.7 674.2 L804.4 676.6 L805.0 678.8 L805.6 681.1 L806.2 683.6 L806.9 686.5 L807.5 688.9 L808.1 691.2 L808.7 693.7 L809.3 695.7 L810.0 697.9 L810.6 700.9 L811.2 703.5 L811.8 705.9 L812.4 708.8 L813.0 711.1 L813.6 712.7 L814.2 715.2 L814.8 718.6 L815.4 721.0 L816.0 722.5 L816.6 724.4 L817.2 727.0 L817.8 729.3 L818.4 731.7 L819.0 734.3 L819.6 736.5 L820.2 739.1 L820.8 742.1 L821.4 744.5 L822.0 747.0 L822.6 749.8 L823.1 752.3 L823.7 754.3 L824.3 756.5 L824.9 758.8" stroke="#0000ff"/><path d="M550.1 758.0 L550.7 755.2 L551.4 752.0 L552.1 749.9 L552.7 747.9 L553.4 745.9 L554.1 743.9 L554.8 741.1 L555.4 738.0 L556.1 735.1 L556.8 732.6 L557.5 730.6 L558.1 728.9 L558.8 727.0 L559.5 723.6 L560.1 720.1 L560.8 718.0 L561.5 715.9 L562.2 713.2 L562.9 710.7 L563.5 708.8 L564.2 706.6 L564.9 704.0 L565.6 701.6 L566.2 699.4 L566.9 696.8 L567.6 694.0 L568.3 691.3 L569.0 689.3 L569.7 687.1 L570.3 684.4 L571.0 682.3 L571.7 680.3 L572.4 677.8 L573.1 675.1 L573.8 672.8 L574.4 671.1 L575.1 668.9 L575.8 665.7 L576.5 662.4 L577.2 660.3 L577.9 659.0 L578.6 657.1 L579.3 654.4 L580.0 651.7 L580.6 648.9 L581.3 646.3 L582.0 644.1 L582.7 641.5 L583.4 638.9 L584.1 637.2 L584.8 635.0 L585.5 631.6 L586.2 628.9 L586.9 627.0 L587.6 624.2 L588.3 621.5 L589.0 619.9 L589.7 617.8 L590.4 615.5 L591.1 613.7 L591.8 610.8 L592.5 607.8 L593.2 605.3 L593.9 602.7 L594.6 600.4 L595.3 598.3 L596.0 595.8 L596.7 593.7 L597.4 592.0 L598.1 589.7 L598.8 587.1 L599.6 584.6 L600.3 582.3 L601.0 580.0 L601.7 577.6 L602.4 575.0 L603.1 572.0 L603.8 569.1 L604.5 566.5 L605.3 564.5 L606.0 562.9 L606.7 560.7 L607.4 557.7 L608.1 555.1 L608.8 552.6 L609.6 549.8 L610.3 547.4 L611.0 545.1 L611.7 542.6 L612.4 540.6 L613.2 538.4 L613.9 535.6 L614.6 532.8 L615.3 530.9 L616.1 529.1 L616.8 526.7 L617.5 524.6 L618.2 522.3 L619.0 519.1 L619.7 516.6 L620.4 515.1 L621.2 512.9 L621.9 509.7 L622.6 507.3 L623.4 505.4 L624.1 503.4 L624.8 501.0 L625.6 498.1 L626.3 495.2 L627.0 493.0 L627.8 491.1 L628.5 487.9 L629.2 484.6 L630.0 482.8 L630.7 481.4 L631.5 479.4 L632.2 476.5 L632.9 473.9 L633.7 472.1 L634.4 469.9 L635.2 467.3 L635.9 464.9 L636.7 462.3 L637.4 459.5 L638.2 457.1 L638.9 454.5 L639.7 452.2 L640.4 450.0 L641.2 447.5 L641.9 445.6 L642.7 443.5 L643.4 440.4 L644.2 437.5 L644.9 435.4 L645.7 433.6 L646.5 431.4 L647.2 429.0 L648.0 426.5 L648.7 423.7 L649.5 420.9 L650.3 418.3 L651.0 416.5 L651.8 414.3 L652.5 411.8 L653.3 410.0 L654.1 406.9 L654.8 403.3 L655.6 401.1 L656.4 399.3 L657.1 398.2 L657.9 396.4 L658.7 393.0 L659.5 390.0 L660.2 387.8 L661.0 385.7 L661.8 383.8 L662.6 381.2 L663.3 378.5 L664.1 376.2 L664.9 373.5 L665.7 371.3 L666.5 369.6 L667.3 366.8 L668.0 363.4 L668.8 360.8 L669.6 358.7 L670.4 356.9 L671.2 354.7 L672.0 351.7 L672.8 349.7 L673.6 347.9 L674.4 345.5 L675.2 343.3 L676.0 341.2 L676.8 338.7 L677.6 336.1 L678.4 334.1 L679.2 331.2 L680.0 327.9 L680.8 325.9 L681.6 323.5 L682.4 320.5 L683.2 317.4 L684.1 314.6 L684.9 312.8 L685.7 311.1 L686.5 308.7 L687.4 306.4 L688.2 304.9 L689.0 302.5 L689.9 299.3 L690.7 296.4 L691.6 293.7 L692.4 291.2 L693.2 289.3 L694.1 287.4 L695.0 284.7 L695.8 281.8 L696.7 279.6 L697.6 277.5 L698.4 276.3 L699.3 275.1 L700.2 272.1 L701.1 268.1 L702.0 264.5 L702.9 261.7 L703.8 260.1 L704.7 258.9 L705.7 256.6 L706.6 254.1 L707.6 251.8 L708.5 250.3 L709.5 248.4 L710.5 245.1 L711.5 242.0 L712.5 240.1 L713.5 238.2 L714.6 234.9 L715.6 231.6 L716.7 229.0 L717.8 227.4 L719.0 227.7 L720.1 226.6 L721.4 223.0 L722.6 220.6 L723.9 218.0 L725.3 214.7 L726.7 212.7 L728.2 210.9 L729.8 209.8 L731.5 208.4 L733.4 205.3 L735.4 204.2 L737.7 203.8 L740.1 202.6 L742.6 203.3 L745.0 204.8 L747.2 205.7 L749.2 207.3 L751.1 208.0 L752.8 209.1 L754.4 213.6 L755.8 217.4 L757.2 218.7 L758.6 219.1 L759.9 219.6 L761.1 221.6 L762.3 223.9 L763.4 226.8 L764.6 229.8 L765.7 231.5 L766.7 232.8 L767.8 234.7 L768.8 237.9 L769.8 240.8 L770.8 242.6 L771.8 245.7 L772.7 248.9 L773.7 249.8 L774.6 251.2 L775.5 254.6 L776.4 259.0 L777.3 262.1 L778.2 263.1 L779.1 264.1 L780.0 266.8 L780.9 269.7 L781.7 272.0 L782.6 275.4 L783.4 278.1 L784.3 279.7 L785.1 282.1 L785.9 285.0 L786.7 287.1 L787.6 288.7 L788.4 291.2 L789.2 293.2 L790.0 295.1 L790.8 297.8 L791.6 300.0 L792.4 301.6 L793.2 303.6 L793.9 307.0 L794.7 311.3 L795.5 314.3 L796.3 316.2 L797.0 318.0 L797.8 319.7 L798.6 321.9 L799.3 324.3 L800.1 326.0 L800.8 328.3 L801.6 331.3 L802.3 333.6 L803.1 335.8 L803.8 338.7 L804.6 341.5 L805.3 344.2 L806.1 346.3 L806.8 348.3 L807.5 350.8 L808.3 353.0 L809.0 355.2 L809.7 357.9 L810.4 361.0 L811.2 363.8 L811.9 365.7 L812.6 367.1 L813.3 369.4 L814.0 372.3 L814.7 374.8 L815.5 377.0 L816.2 379.6 L816.9 382.5 L817.6 384.6 L818.3 386.8 L819.0 390.1 L819.7 392.5 L820.4 394.4 L821.1 396.7 L821.8 399.2 L822.5 401.8 L823.2 403.8 L823.9 405.7 L824.6 408.1 L825.3 410.7 L825.9 413.5 L826.6 416.1 L827.3 418.3 L828.0 419.6 L828.7 421.3 L829.4 424.3 L830.1 427.2 L830.7 430.3 L831.4 433.5 L832.1 435.5 L832.8 437.5 L833.5 439.9 L834.1 442.2 L834.8 444.5 L835.5 446.7 L836.1 449.4 L836.8 452.5 L837.5 455.0 L838.2 457.4 L838.8 459.5 L839.5 461.7 L840.2 464.3 L840.8 467.0 L841.5 469.6 L842.2 471.6 L842.8 473.4 L843.5 476.2 L844.1 479.2 L844.8 481.3 L845.5 483.7 L846.1 486.8 L846.8 489.3 L847.4 491.2 L848.1 493.7 L848.7 496.7 L849.4 498.9 L850.0 500.7 L850.7 502.6 L851.4 504.3 L852.0 506.9 L852.7 510.1 L853.3 512.8 L854.0 514.7 L854.6 516.5 L855.3 518.8 L855.9 521.4 L856.6 524.1 L857.2 527.4 L857.8 530.8 L858.5 533.6 L859.1 535.2 L859.8 536.5 L860.4 537.9 L861.1 539.7 L861.7 542.9 L862.4 546.4 L863.0 549.3 L863.6 551.8 L864.3 554.1 L864.9 556.4 L865.6 559.1 L866.2 561.4 L866.9 563.1 L867.5 565.0 L868.1 567.8 L868.8 571.3 L869.4 574.1 L870.1 575.8 L870.7 577.5 L871.3 580.0 L872.0 582.6 L872.6 585.0 L873.2 587.6 L873.9 590.0 L874.5 592.5 L875.2 595.1 L875.8 597.4 L876.4 599.5 L877.1 601.8 L877.7 604.4 L878.3 607.1 L879.0 609.4 L879.6 611.7 L880.3 613.7 L880.9 616.0 L881.5 618.8 L882.2 621.3 L882.8 624.0 L883.4 626.2 L884.1 627.8 L884.7 630.2 L885.4 632.9 L886.0 635.2 L886.6 637.8 L887.3 640.7 L887.9 643.3 L888.5 645.6 L889.2 648.0 L889.8 650.3 L890.5 652.6 L891.1 655.2 L891.7 657.9 L892.4 660.1 L893.0 662.1 L893.7 664.4 L894.3 667.2 L894.9 669.9 L895.6 672.0 L896.2 674.3 L896.9 677.6 L897.5 680.5 L898.1 682.3 L898.8 684.4 L899.4 686.4 L900.1 688.1 L900.7 690.9 L901.4 693.9 L902.0 696.7 L902.7 698.8 L903.3 700.7 L904.0 703.4 L904.6 705.9 L905.2 708.2 L905.9 710.4 L906.5 712.6 L907.2 715.4 L907.9 718.7 L908.5 721.6 L909.2 723.6 L909.8 725.8 L910.5 728.5 L911.1 731.1 L911.8 733.7 L912.4 735.7 L913.1 737.6 L913.7 739.9 L914.4 742.4 L915.1 744.8 L915.7 747.0 L916.4 748.7 L917.1 750.7 L917.7 753.1 L918.4 755.7" stroke="#2e8b57"/><path d="M550.1 760.8 L550.7 758.1 L551.4 755.5 L552.1 753.7 L552.7 751.7 L553.4 749.3 L554.1 747.5 L554.8 744.8 L555.4 741.7 L556.1 739.4 L556.8 737.2 L557.5 734.8 L558.1 732.2 L558.8 729.3 L559.5 726.6 L560.1 724.1 L560.8 721.8 L561.5 719.4 L562.2 716.7 L562.9 714.5 L563.5 712.7 L564.2 710.4 L564.9 707.6 L565.6 704.6 L566.2 702.2 L566.9 700.3 L567.6 698.0 L568.3 695.8 L569.0 693.7 L569.7 691.2 L570.3 688.6 L571.0 686.4 L571.7 684.0 L572.4 681.6 L573.1 679.5 L573.8 677.1 L574.4 674.4 L575.1 672.0 L575.8 669.8 L576.5 667.7 L577.2 665.3 L577.9 662.7 L578.6 660.3 L579.3 657.9 L580.0 655.5 L580.6 652.4 L581.3 649.6 L582.0 647.9 L582.7 645.5 L583.4 642.5 L584.1 640.1 L584.8 638.2 L585.5 636.6 L586.2 633.7 L586.9 630.5 L587.6 628.4 L588.3 626.5 L589.0 624.3 L589.7 620.9 L590.4 617.8 L591.1 616.1 L591.8 614.0 L592.5 611.1 L593.2 608.5 L593.9 607.1 L594.6 605.0 L595.3 602.0 L596.0 599.8 L596.7 597.9 L597.4 596.0 L598.1 593.3 L598.8 590.5 L599.6 588.4 L600.3 585.8 L601.0 583.0 L601.7 580.7 L602.4 577.8 L603.1 575.4 L603.8 573.9 L604.5 571.2 L605.3 568.4 L606.0 566.0 L606.7 563.0 L607.4 560.5 L608.1 558.5 L608.8 556.4 L609.6 554.5 L610.3 552.3 L611.0 549.7 L611.7 547.4 L612.4 544.9 L613.2 542.1 L613.9 539.6 L614.6 537.5 L615.3 535.5 L616.1 533.2 L616.8 530.2 L617.5 527.5 L618.2 525.2 L619.0 523.1 L619.7 521.0 L620.4 518.4 L621.2 515.9 L621.9 514.1 L622.6 511.7 L623.4 509.1 L624.1 506.9 L624.8 504.2 L625.6 501.6 L626.3 499.2 L627.0 496.6 L627.8 494.2 L628.5 492.4 L629.2 490.8 L630.0 488.4 L630.7 485.7 L631.5 483.4 L632.2 480.7 L632.9 478.3 L633.7 476.1 L634.4 474.1 L635.2 472.0 L635.9 468.8 L636.7 465.8 L637.4 463.9 L638.2 461.3 L638.9 457.9 L639.7 455.3 L640.4 454.1 L641.2 452.6 L641.9 450.2 L642.7 448.1 L643.4 445.6 L644.2 442.8 L644.9 440.1 L645.7 437.3 L646.5 435.0 L647.2 433.3 L648.0 430.5 L648.7 427.5 L649.5 425.4 L650.3 423.0 L651.0 420.5 L651.8 418.4 L652.5 415.6 L653.3 412.6 L654.1 410.9 L654.8 409.3 L655.6 406.4 L656.4 404.2 L657.1 402.4 L657.9 399.7 L658.7 396.6 L659.5 394.4 L660.2 392.6 L661.0 390.4 L661.8 387.3 L662.6 384.8 L663.3 383.5 L664.1 381.6 L664.9 378.6 L665.7 375.8 L666.5 373.6 L667.3 371.6 L668.0 369.0 L668.8 366.0 L669.6 363.8 L670.4 361.4 L671.2 358.8 L672.0 356.8 L672.8 354.6 L673.6 352.2 L674.4 349.7 L675.2 346.9 L676.0 344.9 L676.8 343.2 L677.6 341.2 L678.4 338.6 L679.2 335.0 L680.0 332.3 L680.8 331.0 L681.6 329.8 L682.4 328.1 L683.2 324.9 L684.1 321.7 L684.9 319.4 L685.7 316.4 L686.5 314.4 L687.4 313.8 L688.2 311.4 L689.0 308.5 L689.9 306.7 L690.7 304.6 L691.6 302.0 L692.4 299.0 L693.2 295.4 L694.1 293.0 L695.0 292.5 L695.8 290.9 L696.7 287.8 L697.6 284.9 L698.4 282.2 L699.3 280.0 L700.2 278.7 L701.1 276.6 L702.0 273.8 L702.9 271.6 L703.8 269.6 L704.7 267.2 L705.7 264.2 L706.6 261.1 L707.6 260.1 L708.5 258.8 L709.5 255.2 L710.5 252.5 L711.5 251.3 L712.5 249.4 L713.5 246.0 L714.6 242.6 L715.6 240.5 L716.7 237.9 L717.8 235.9 L719.0 234.7 L720.1 232.9 L721.4 232.5 L722.6 231.9 L723.9 228.7 L725.3 224.8 L726.7 221.3 L728.2 218.6 L729.8 216.7 L731.5 215.0 L733.4 213.3 L735.4 212.2 L737.7 211.5 L740.1 210.1 L742.6 209.4 L745.0 210.8 L747.2 213.6 L749.2 216.0 L751.1 218.5 L752.8 220.0 L754.4 221.1 L755.8 222.3 L757.2 224.6 L758.6 228.7 L759.9 230.8 L761.1 230.7 L762.3 232.1 L763.4 234.2 L764.6 235.6 L765.7 238.4 L766.7 242.2 L767.8 244.2 L768.8 246.3 L769.8 248.7 L770.8 250.4 L771.8 252.7 L772.7 254.7 L773.7 256.9 L774.6 259.5 L775.5 262.3 L776.4 265.3 L777.3 267.8 L778.2 269.9 L779.1 271.5 L780.0 273.3 L780.9 274.8 L781.7 276.9 L782.6 280.5 L783.4 283.0 L784.3 285.0 L785.1 287.7 L785.9 289.8 L786.7 292.2 L787.6 295.1 L788.4 296.9 L789.2 298.8 L790.0 302.3 L790.8 304.7 L791.6 305.9 L792.4 307.3 L793.2 309.1 L793.9 312.1 L794.7 315.5 L795.5 317.7 L796.3 319.4 L797.0 322.6 L797.8 325.8 L798.6 327.6 L799.3 329.8 L800.1 333.0 L800.8 335.3 L801.6 336.9 L802.3 338.5 L803.1 340.2 L803.8 342.8 L804.6 345.7 L805.3 348.6 L806.1 351.5 L806.8 354.0 L807.5 356.3 L808.3 358.2 L809.0 359.6 L809.7 361.4 L810.4 364.3 L811.2 367.0 L811.9 369.5 L812.6 371.9 L813.3 373.9 L814.0 376.4 L814.7 379.4 L815.5 381.9 L816.2 384.3 L816.9 386.9 L817.6 389.0 L818.3 391.1 L819.0 394.3 L819.7 397.2 L820.4 399.2 L821.1 402.0 L821.8 405.0 L822.5 406.9 L823.2 408.8 L823.9 411.6 L824.6 413.6 L825.3 415.4 L825.9 417.9 L826.6 420.6 L827.3 422.9 L828.0 425.4 L828.7 427.9 L829.4 429.6 L830.1 431.8 L830.7 435.0 L831.4 437.9 L832.1 439.9 L832.8 441.9 L833.5 444.7 L834.1 447.6 L834.8 449.8 L835.5 451.4 L836.1 453.7 L836.8 455.9 L837.5 457.7 L838.2 460.7 L838.8 463.8 L839.5 465.8 L840.2 468.1 L840.8 471.2 L841.5 474.0 L842.2 476.0 L842.8 477.8 L843.5 480.4 L844.1 483.1 L844.8 484.9 L845.5 487.3 L846.1 490.5 L846.8 493.0 L847.4 494.0 L848.1 495.4 L848.7 498.1 L849.4 501.2 L850.0 504.3 L850.7 507.0 L851.4 509.2 L852.0 511.3 L852.7 513.8 L853.3 516.1 L854.0 518.5 L854.6 521.6 L855.3 524.9 L855.9 526.9 L856.6 528.1 L857.2 530.2 L857.8 532.6 L858.5 534.8 L859.1 537.3 L859.8 540.3 L860.4 543.1 L861.1 545.2 L861.7 547.1 L862.4 549.2 L863.0 551.8 L863.6 554.7 L864.3 557.6 L864.9 560.2 L865.6 562.5 L866.2 565.1 L866.9 567.5 L867.5 569.2 L868.1 570.8 L868.8 573.6 L869.4 577.1 L870.1 580.0 L870.7 582.2 L871.3 584.3 L872.0 586.4 L872.6 588.5 L873.2 591.1 L873.9 594.0 L874.5 596.4 L875.2 598.4 L875.8 600.9 L876.4 603.6 L877.1 605.9 L877.7 608.3 L878.3 611.2 L879.0 613.5 L879.6 615.8 L880.3 618.7 L880.9 621.0 L881.5 623.0 L882.2 625.1 L882.8 627.1 L883.4 629.0 L884.1 631.5 L884.7 634.4 L885.4 636.8 L886.0 639.3 L886.6 641.6 L887.3 643.8 L887.9 646.6 L888.5 649.5 L889.2 652.4 L889.8 655.0 L890.5 657.2 L891.1 659.2 L891.7 661.4 L892.4 664.0 L893.0 666.3 L893.7 668.4 L894.3 670.9 L894.9 673.4 L895.6 676.0 L896.2 678.4 L896.9 680.4 L897.5 682.8 L898.1 685.3 L898.8 687.2 L899.4 690.0 L900.1 692.7 L900.7 694.2 L901.4 696.9 L902.0 699.8 L902.7 702.4 L903.3 705.0 L904.0 707.0 L904.6 710.0 L905.2 713.2 L905.9 715.1 L906.5 717.1 L907.2 719.2 L907.9 721.6 L908.5 724.0 L909.2 726.2 L909.8 728.8 L910.5 731.5 L911.1 733.4 L911.8 735.8 L912.4 738.3 L913.1 740.7 L913.7 743.7 L914.4 745.9 L915.1 747.7 L915.7 750.2 L916.4 752.6 L917.1 755.1 L917.7 757.6 L918.4 760.0" stroke="#2e8b57"/><path d="M601.2 757.4 L601.8 754.9 L602.4 752.6 L603.0 750.2 L603.5 747.7 L604.1 744.9 L604.7 742.0 L605.3 739.7 L605.9 737.9 L606.5 736.2 L607.1 734.2 L607.7 731.5 L608.3 728.3 L608.9 725.6 L609.5 723.3 L610.1 721.1 L610.7 719.1 L611.3 716.4 L612.0 713.2 L612.6 710.9 L613.2 709.1 L613.8 706.6 L614.4 704.0 L615.1 701.7 L615.7 699.0 L616.3 696.2 L616.9 693.4 L617.6 690.9 L618.2 689.0 L618.8 686.4 L619.5 683.8 L620.1 681.7 L620.8 679.7 L621.4 677.3 L622.0 674.4 L622.7 671.6 L623.3 669.2 L624.0 666.9 L624.6 665.0 L625.3 662.9 L625.9 660.8 L626.6 658.8 L627.3 656.2 L627.9 653.4 L628.6 650.8 L629.2 648.3 L629.9 646.4 L630.6 643.8 L631.3 640.9 L631.9 638.8 L632.6 636.8 L633.3 634.3 L633.9 631.5 L634.6 628.3 L635.3 626.1 L636.0 624.7 L636.7 621.9 L637.4 618.8 L638.0 616.7 L638.7 614.0 L639.4 610.7 L640.1 608.0 L640.8 606.2 L641.5 604.6 L642.2 602.5 L642.9 600.0 L643.6 597.9 L644.3 595.1 L645.0 592.0 L645.7 589.7 L646.4 587.4 L647.1 584.8 L647.9 582.7 L648.6 580.6 L649.3 578.0 L650.0 575.3 L650.7 573.6 L651.4 571.8 L652.2 568.5 L652.9 565.6 L653.6 564.0 L654.3 562.1 L655.1 559.4 L655.8 556.7 L656.5 554.5 L657.3 551.8 L658.0 548.9 L658.7 546.8 L659.5 544.9 L660.2 543.0 L661.0 540.6 L661.7 538.1 L662.5 535.8 L663.2 533.4 L664.0 530.7 L664.7 527.5 L665.5 525.0 L666.2 523.1 L667.0 520.6 L667.7 518.2 L668.5 516.1 L669.3 513.6 L670.0 511.5 L670.8 509.1 L671.6 506.1 L672.3 504.7 L673.1 503.2 L673.9 500.1 L674.7 497.4 L675.4 495.6 L676.2 493.2 L677.0 490.0 L677.8 487.4 L678.6 485.4 L679.3 483.2 L680.1 480.9 L680.9 478.5 L681.7 475.8 L682.5 473.2 L683.3 470.6 L684.1 468.2 L684.9 466.1 L685.7 463.6 L686.5 461.4 L687.3 459.6 L688.1 456.8 L688.9 454.0 L689.8 452.1 L690.6 449.7 L691.4 447.4 L692.2 445.2 L693.0 442.8 L693.8 440.2 L694.7 437.6 L695.5 435.9 L696.3 433.6 L697.2 430.2 L698.0 428.0 L698.8 426.0 L699.7 422.9 L700.5 420.9 L701.3 419.6 L702.2 417.5 L703.0 415.3 L703.9 412.7 L704.7 409.8 L705.6 407.6 L706.4 405.5 L707.3 403.3 L708.2 400.6 L709.0 397.9 L709.9 395.8 L710.8 394.0 L711.6 391.2 L712.5 387.8 L713.4 385.4 L714.3 383.4 L715.2 380.9 L716.0 378.2 L716.9 375.8 L717.8 373.9 L718.7 372.3 L719.6 370.2 L720.5 368.0 L721.4 366.0 L722.3 363.9 L723.2 362.2 L724.2 359.4 L725.1 355.9 L726.0 352.1 L726.9 348.9 L727.9 347.5 L728.8 346.7 L729.7 344.5 L730.7 341.7 L731.6 339.7 L732.6 337.4 L733.5 334.0 L734.5 330.8 L735.4 328.9 L736.4 327.5 L737.4 325.4 L738.4 322.7 L739.4 320.0 L740.3 318.6 L741.3 316.8 L742.3 314.5 L743.4 312.4 L744.4 310.0 L745.4 306.5 L746.4 302.9 L747.4 301.0 L748.5 300.4 L749.5 298.4 L750.6 295.3 L751.7 292.5 L752.7 290.4 L753.8 288.1 L754.9 285.5 L756.0 283.8 L757.1 282.9 L758.3 279.9 L759.4 276.0 L760.5 273.1 L761.7 271.6 L762.9 270.7 L764.1 268.7 L765.3 265.8 L766.5 263.3 L767.7 260.6 L769.0 258.6 L770.3 257.6 L771.6 256.6 L772.9 254.5 L774.2 250.7 L775.6 248.2 L777.0 246.7 L778.4 243.6 L779.9 240.2 L781.3 238.5 L782.9 237.7 L784.4 236.2 L786.1 234.5 L787.7 233.4 L789.4 231.8 L791.2 229.2 L793.1 226.8 L795.0 225.1 L797.0 224.4 L799.1 223.4 L801.3 221.7 L803.6 220.2 L805.9 218.2 L808.4 216.4 L810.9 216.9 L813.4 218.8 L815.8 220.3 L818.3 221.1 L820.6 221.5 L822.8 222.9 L825.0 224.9 L827.0 225.5 L829.0 225.5 L830.8 227.0 L832.6 228.8 L834.3 230.4 L836.0 233.4 L837.6 235.9 L839.1 237.9 L840.6 240.4 L842.1 241.6 L843.5 242.7 L844.9 244.7 L846.3 246.9 L847.6 249.6 L848.9 252.7 L850.1 255.6 L851.4 257.6 L852.6 259.0 L853.8 260.1 L855.0 261.6 L856.1 264.1 L857.3 267.0 L858.4 270.0 L859.5 272.9 L860.6 275.7 L861.7 278.0 L862.8 279.8 L863.9 281.6 L864.9 283.8 L865.9 286.6 L867.0 288.6 L868.0 290.3 L869.0 293.6 L870.0 296.9 L871.0 298.0 L872.0 299.1 L873.0 300.8 L873.9 303.4 L874.9 306.9 L875.8 309.4 L876.8 312.1 L877.7 315.7 L878.7 317.9 L879.6 318.8 L880.5 321.2 L881.4 323.8 L882.3 325.9 L883.3 328.1 L884.2 330.6 L885.1 333.5 L885.9 335.7 L886.8 337.9 L887.7 340.6 L888.6 342.9 L889.5 344.8 L890.3 347.4 L891.2 350.2 L892.1 352.0 L892.9 353.5 L893.8 355.4 L894.6 357.6 L895.5 360.0 L896.3 362.9 L897.2 365.0 L898.0 366.7 L898.8 369.8 L899.7 373.0 L900.5 374.9 L901.3 377.2 L902.1 379.9 L903.0 381.7 L903.8 383.3 L904.6 385.9 L905.4 389.2 L906.2 392.4 L907.0 394.9 L907.8 396.4 L908.6 398.0 L909.4 400.2 L910.2 402.8 L911.0 405.1 L911.8 407.3 L912.6 410.4 L913.4 413.3 L914.2 415.6 L914.9 417.7 L915.7 419.4 L916.5 421.4 L917.3 424.5 L918.1 428.0 L918.8 430.4 L919.6 432.4 L920.4 434.9 L921.1 437.4 L921.9 440.0 L922.7 442.1 L923.4 444.1 L924.2 446.5 L924.9 448.4 L925.7 450.2 L926.4 452.7 L927.2 455.7 L927.9 458.4 L928.7 460.6 L929.4 463.3 L930.2 466.0 L930.9 467.9 L931.6 470.2 L932.4 473.5 L933.1 476.2 L933.9 477.6 L934.6 479.1 L935.3 481.8 L936.1 484.9 L936.8 487.6 L937.5 489.9 L938.2 491.8 L939.0 494.2 L939.7 496.9 L940.4 499.5 L941.1 502.0 L941.8 504.2 L942.5 505.9 L943.3 507.7 L944.0 510.1 L944.7 512.7 L945.4 515.6 L946.1 518.9 L946.8 521.6 L947.5 523.3 L948.2 525.1 L948.9 527.5 L949.6 530.3 L950.3 533.3 L951.0 535.7 L951.7 537.7 L952.4 539.4 L953.1 541.2 L953.8 543.7 L954.5 546.6 L955.1 549.5 L955.8 551.9 L956.5 554.0 L957.2 556.8 L957.9 559.6 L958.6 561.3 L959.2 563.4 L959.9 566.0 L960.6 568.4 L961.3 571.0 L961.9 574.2 L962.6 576.5 L963.3 578.1 L963.9 580.5 L964.6 583.3 L965.3 585.6 L965.9 587.9 L966.6 590.6 L967.3 593.2 L967.9 595.3 L968.6 597.6 L969.2 600.2 L969.9 602.6 L970.5 605.2 L971.2 607.8 L971.8 610.1 L972.5 612.3 L973.1 614.5 L973.8 616.5 L974.4 618.7 L975.1 621.4 L975.7 624.1 L976.3 626.3 L977.0 628.6 L977.6 631.6 L978.3 633.9 L978.9 636.2 L979.5 639.2 L980.1 641.6 L980.8 643.9 L981.4 646.6 L982.0 648.7 L982.7 651.2 L983.3 654.0 L983.9 655.8 L984.5 658.2 L985.1 660.8 L985.8 662.8 L986.4 665.3 L987.0 668.6 L987.6 671.3 L988.2 672.9 L988.8 675.1 L989.4 677.9 L990.0 680.0 L990.6 682.1 L991.2 684.9 L991.8 687.6 L992.4 690.2 L993.0 693.0 L993.6 695.4 L994.2 697.5 L994.8 699.5 L995.4 701.5 L996.0 704.1 L996.6 706.8 L997.2 709.1 L997.8 711.4 L998.3 714.1 L998.9 717.4 L999.5 720.1 L1000.1 721.7 L1000.7 723.8 L1001.2 726.5 L1001.8 729.2 L1002.4 731.6 L1003.0 733.6 L1003.5 735.9 L1004.1 738.2 L1004.7 740.6 L1005.2 743.2 L1005.8 745.7 L1006.3 748.3 L1006.9 751.0 L1007.5 753.5 L1008.0 755.7" stroke="#bf7fff"/><path d="M601.2 761.1 L601.8 758.3 L602.4 756.0 L603.0 753.6 L603.5 751.1 L604.1 748.9 L604.7 746.2 L605.3 743.2 L605.9 740.8 L606.5 738.7 L607.1 736.3 L607.7 733.3 L608.3 730.5 L608.9 728.7 L609.5 726.9 L610.1 724.2 L610.7 721.7 L611.3 719.0 L612.0 716.2 L612.6 714.3 L613.2 712.5 L613.8 710.1 L614.4 707.7 L615.1 705.1 L615.7 702.5 L616.3 700.1 L616.9 698.2 L617.6 696.3 L618.2 693.5 L618.8 690.5 L619.5 687.7 L620.1 685.5 L620.8 683.5 L621.4 680.5 L622.0 677.8 L622.7 675.7 L623.3 673.8 L624.0 671.4 L624.6 668.3 L625.3 666.2 L625.9 664.1 L626.6 661.1 L627.3 658.7 L627.9 657.1 L628.6 654.9 L629.2 651.5 L629.9 648.9 L630.6 647.5 L631.3 645.5 L631.9 642.0 L632.6 639.2 L633.3 637.6 L633.9 635.5 L634.6 633.1 L635.3 630.4 L636.0 627.6 L636.7 625.5 L637.4 623.9 L638.0 621.1 L638.7 617.4 L639.4 615.4 L640.1 613.9 L640.8 611.0 L641.5 608.0 L642.2 605.9 L642.9 603.8 L643.6 601.3 L644.3 598.8 L645.0 596.3 L645.7 594.1 L646.4 591.7 L647.1 589.1 L647.9 586.7 L648.6 584.8 L649.3 582.9 L650.0 580.3 L650.7 577.6 L651.4 575.4 L652.2 573.2 L652.9 571.0 L653.6 568.8 L654.3 566.7 L655.1 564.1 L655.8 561.0 L656.5 558.4 L657.3 556.4 L658.0 554.0 L658.7 551.0 L659.5 547.8 L660.2 545.4 L661.0 544.0 L661.7 542.3 L662.5 539.5 L663.2 536.8 L664.0 534.6 L664.7 532.2 L665.5 529.9 L666.2 527.5 L667.0 524.6 L667.7 521.7 L668.5 519.0 L669.3 516.6 L670.0 514.6 L670.8 512.9 L671.6 511.1 L672.3 508.9 L673.1 506.2 L673.9 503.5 L674.7 501.2 L675.4 498.9 L676.2 496.8 L677.0 494.2 L677.8 491.4 L678.6 489.2 L679.3 487.0 L680.1 484.8 L680.9 483.1 L681.7 480.9 L682.5 477.7 L683.3 474.5 L684.1 471.7 L684.9 469.8 L685.7 467.4 L686.5 464.7 L687.3 463.2 L688.1 461.2 L688.9 458.4 L689.8 455.8 L690.6 453.6 L691.4 451.4 L692.2 448.7 L693.0 446.9 L693.8 445.5 L694.7 442.8 L695.5 440.1 L696.3 437.3 L697.2 434.5 L698.0 432.6 L698.8 430.4 L699.7 427.8 L700.5 426.0 L701.3 424.4 L702.2 421.6 L703.0 418.0 L703.9 415.1 L704.7 413.3 L705.6 412.0 L706.4 410.2 L707.3 407.4 L708.2 404.1 L709.0 401.6 L709.9 399.8 L710.8 397.6 L711.6 395.0 L712.5 393.1 L713.4 391.2 L714.3 388.4 L715.2 385.0 L716.0 382.2 L716.9 380.8 L717.8 379.1 L718.7 376.6 L719.6 374.0 L720.5 371.8 L721.4 370.0 L722.3 367.7 L723.2 365.0 L724.2 362.2 L725.1 360.0 L726.0 357.9 L726.9 355.1 L727.9 352.5 L728.8 351.2 L729.7 349.8 L730.7 347.7 L731.6 345.4 L732.6 342.5 L733.5 339.2 L734.5 336.5 L735.4 335.0 L736.4 333.9 L737.4 331.7 L738.4 329.3 L739.4 326.9 L740.3 324.1 L741.3 321.6 L742.3 319.6 L743.4 317.8 L744.4 315.6 L745.4 313.2 L746.4 310.4 L747.4 307.6 L748.5 305.1 L749.5 303.2 L750.6 301.0 L751.7 297.9 L752.7 296.9 L753.8 296.3 L754.9 292.7 L756.0 289.3 L757.1 288.1 L758.3 286.8 L759.4 284.3 L760.5 281.9 L761.7 279.5 L762.9 278.1 L764.1 277.4 L765.3 273.9 L766.5 270.1 L767.7 268.1 L769.0 266.7 L770.3 265.1 L771.6 263.1 L772.9 259.9 L774.2 257.1 L775.6 255.7 L777.0 253.8 L778.4 250.9 L779.9 248.2 L781.3 246.4 L782.9 245.1 L784.4 243.1 L786.1 240.9 L787.7 239.9 L789.4 238.3 L791.2 235.6 L793.1 233.8 L795.0 233.1 L797.0 231.5 L799.1 228.7 L801.3 227.4 L803.6 226.7 L805.9 227.2 L808.4 227.8 L810.9 227.1 L813.4 226.7 L815.8 227.8 L818.3 230.2 L820.6 231.6 L822.8 231.1 L825.0 230.1 L827.0 231.7 L829.0 234.8 L830.8 236.2 L832.6 237.5 L834.3 239.1 L836.0 240.7 L837.6 243.3 L839.1 245.7 L840.6 247.2 L842.1 248.9 L843.5 250.9 L844.9 253.1 L846.3 256.2 L847.6 259.1 L848.9 260.9 L850.1 262.6 L851.4 263.2 L852.6 264.1 L853.8 267.4 L855.0 270.2 L856.1 272.1 L857.3 273.7 L858.4 275.2 L859.5 278.1 L860.6 281.9 L861.7 284.4 L862.8 285.2 L863.9 287.4 L864.9 290.4 L865.9 292.9 L867.0 295.7 L868.0 297.2 L869.0 298.7 L870.0 302.2 L871.0 304.5 L872.0 305.9 L873.0 308.5 L873.9 311.2 L874.9 313.4 L875.8 314.6 L876.8 316.2 L877.7 319.6 L878.7 323.2 L879.6 326.3 L880.5 328.4 L881.4 329.6 L882.3 330.9 L883.3 332.8 L884.2 335.0 L885.1 337.2 L885.9 339.0 L886.8 340.9 L887.7 344.2 L888.6 348.0 L889.5 351.3 L890.3 352.9 L891.2 354.3 L892.1 356.3 L892.9 358.1 L893.8 359.9 L894.6 362.6 L895.5 366.3 L896.3 368.6 L897.2 370.0 L898.0 372.7 L898.8 375.8 L899.7 378.2 L900.5 380.0 L901.3 381.7 L902.1 384.0 L903.0 387.0 L903.8 389.6 L904.6 391.1 L905.4 393.4 L906.2 396.4 L907.0 398.8 L907.8 401.4 L908.6 404.0 L909.4 406.7 L910.2 409.4 L911.0 411.5 L911.8 413.2 L912.6 414.7 L913.4 417.1 L914.2 420.4 L914.9 423.6 L915.7 426.3 L916.5 428.6 L917.3 430.1 L918.1 432.2 L918.8 434.7 L919.6 436.7 L920.4 438.6 L921.1 440.9 L921.9 443.6 L922.7 445.8 L923.4 448.0 L924.2 450.4 L924.9 453.0 L925.7 455.4 L926.4 457.6 L927.2 459.6 L927.9 462.3 L928.7 465.2 L929.4 467.3 L930.2 469.5 L930.9 471.4 L931.6 473.4 L932.4 476.6 L933.1 479.3 L933.9 481.4 L934.6 483.9 L935.3 485.9 L936.1 488.2 L936.8 490.8 L937.5 493.8 L938.2 496.5 L939.0 498.3 L939.7 500.9 L940.4 503.3 L941.1 504.5 L941.8 506.8 L942.5 510.1 L943.3 512.7 L944.0 515.4 L944.7 518.0 L945.4 519.7 L946.1 521.1 L946.8 523.3 L947.5 526.3 L948.2 529.2 L948.9 531.8 L949.6 534.1 L950.3 536.5 L951.0 539.7 L951.7 542.5 L952.4 544.2 L953.1 545.8 L953.8 548.1 L954.5 550.6 L955.1 552.9 L955.8 555.3 L956.5 558.2 L957.2 560.9 L957.9 563.1 L958.6 565.6 L959.2 568.3 L959.9 570.0 L960.6 571.4 L961.3 574.2 L961.9 577.5 L962.6 580.2 L963.3 582.3 L963.9 584.4 L964.6 586.9 L965.3 589.5 L965.9 591.7 L966.6 593.8 L967.3 596.4 L967.9 599.1 L968.6 601.1 L969.2 603.3 L969.9 606.1 L970.5 608.7 L971.2 611.3 L971.8 614.1 L972.5 616.8 L973.1 619.0 L973.8 620.8 L974.4 622.8 L975.1 625.4 L975.7 628.6 L976.3 631.3 L977.0 633.5 L977.6 635.1 L978.3 637.1 L978.9 640.4 L979.5 643.0 L980.1 645.1 L980.8 647.6 L981.4 650.2 L982.0 652.3 L982.7 654.4 L983.3 657.1 L983.9 659.4 L984.5 662.0 L985.1 665.2 L985.8 667.5 L986.4 668.9 L987.0 670.8 L987.6 673.8 L988.2 676.7 L988.8 678.7 L989.4 680.6 L990.0 682.9 L990.6 685.5 L991.2 688.6 L991.8 691.6 L992.4 693.9 L993.0 695.8 L993.6 698.4 L994.2 700.9 L994.8 703.0 L995.4 705.9 L996.0 708.9 L996.6 711.1 L997.2 713.2 L997.8 715.3 L998.3 717.3 L998.9 719.5 L999.5 722.5 L1000.1 725.9 L1000.7 728.8 L1001.2 731.0 L1001.8 732.9 L1002.4 734.8 L1003.0 736.9 L1003.5 739.6 L1004.1 742.1 L1004.7 744.5 L1005.2 746.9 L1005.8 748.8 L1006.3 750.7 L1006.9 753.1 L1007.5 755.5 L1008.0 758.2" stroke="#bf7fff"/><path d="M649.3 757.6 L650.0 755.0 L650.6 752.6 L651.3 750.7 L651.9 748.2 L652.5 745.4 L653.2 743.2 L653.8 740.7 L654.5 738.0 L655.1 735.3 L655.8 732.4 L656.4 730.0 L657.0 728.1 L657.7 725.9 L658.3 723.3 L659.0 721.0 L659.7 719.2 L660.3 717.0 L661.0 714.6 L661.6 711.9 L662.3 708.9 L662.9 706.3 L663.6 704.0 L664.3 701.5 L664.9 699.3 L665.6 697.3 L666.2 694.5 L666.9 691.6 L667.6 690.0 L668.2 688.0 L668.9 685.4 L669.6 682.8 L670.3 679.9 L670.9 677.1 L671.6 674.7 L672.3 672.9 L673.0 670.8 L673.6 668.1 L674.3 665.7 L675.0 663.0 L675.7 660.5 L676.4 658.7 L677.1 656.4 L677.8 653.4 L678.4 650.5 L679.1 648.3 L679.8 646.4 L680.5 644.7 L681.2 641.9 L681.9 638.8 L682.6 636.1 L683.3 633.5 L684.0 631.4 L684.7 629.5 L685.4 627.3 L686.1 624.7 L686.8 622.0 L687.5 619.8 L688.2 617.7 L688.9 614.5 L689.7 611.8 L690.4 609.8 L691.1 607.4 L691.8 605.2 L692.5 603.2 L693.2 600.7 L694.0 598.3 L694.7 596.1 L695.4 594.2 L696.1 591.9 L696.9 588.7 L697.6 585.9 L698.3 583.5 L699.1 581.7 L699.8 579.3 L700.5 576.5 L701.3 574.1 L702.0 571.4 L702.8 568.5 L703.5 566.7 L704.3 565.3 L705.0 562.9 L705.8 560.0 L706.5 557.6 L707.3 555.1 L708.0 552.2 L708.8 550.5 L709.5 549.0 L710.3 546.0 L711.1 543.4 L711.8 541.0 L712.6 538.3 L713.4 536.2 L714.1 534.2 L714.9 531.8 L715.7 529.1 L716.5 526.6 L717.2 524.3 L718.0 522.3 L718.8 520.3 L719.6 517.7 L720.4 514.2 L721.2 511.4 L722.0 509.9 L722.7 507.9 L723.5 504.5 L724.3 501.5 L725.1 499.7 L725.9 498.0 L726.8 495.4 L727.6 493.0 L728.4 491.3 L729.2 489.2 L730.0 486.5 L730.8 483.7 L731.6 481.6 L732.5 480.0 L733.3 477.7 L734.1 474.3 L734.9 471.2 L735.8 469.1 L736.6 467.3 L737.4 465.0 L738.3 463.0 L739.1 460.7 L740.0 458.3 L740.8 456.0 L741.7 453.4 L742.5 450.4 L743.4 448.7 L744.2 446.9 L745.1 443.6 L746.0 441.1 L746.8 439.4 L747.7 436.7 L748.6 433.6 L749.5 431.3 L750.4 429.8 L751.2 428.3 L752.1 425.9 L753.0 423.3 L753.9 420.5 L754.8 417.7 L755.7 415.2 L756.6 413.0 L757.5 411.0 L758.5 409.3 L759.4 406.7 L760.3 404.0 L761.2 401.8 L762.2 399.0 L763.1 396.2 L764.0 393.8 L765.0 391.4 L765.9 389.6 L766.9 387.7 L767.8 385.4 L768.8 383.1 L769.7 380.6 L770.7 377.8 L771.7 375.2 L772.7 373.0 L773.6 370.7 L774.6 368.5 L775.6 366.6 L776.6 364.0 L777.6 360.7 L778.6 358.3 L779.7 357.0 L780.7 355.5 L781.7 353.5 L782.7 351.7 L783.8 349.5 L784.8 346.7 L785.9 343.6 L786.9 340.5 L788.0 338.1 L789.1 336.4 L790.2 334.7 L791.3 332.6 L792.4 330.1 L793.5 327.9 L794.6 326.0 L795.7 323.8 L796.8 321.4 L798.0 318.9 L799.1 315.9 L800.3 313.6 L801.4 312.2 L802.6 310.2 L803.8 307.5 L805.0 305.8 L806.2 304.4 L807.4 301.2 L808.7 298.4 L809.9 296.3 L811.2 293.7 L812.5 292.5 L813.7 291.8 L815.0 289.5 L816.4 286.8 L817.7 284.3 L819.0 282.1 L820.4 280.0 L821.8 277.3 L823.2 274.7 L824.6 273.3 L826.1 271.8 L827.5 269.8 L829.0 266.7 L830.5 263.9 L832.0 263.9 L833.6 263.9 L835.2 260.9 L836.8 256.8 L838.4 254.2 L840.1 252.5 L841.8 250.8 L843.6 249.3 L845.3 247.9 L847.2 247.1 L849.0 244.9 L850.9 241.3 L852.9 239.8 L854.9 238.1 L856.9 235.8 L859.0 235.0 L861.1 235.1 L863.3 234.1 L865.6 232.3 L867.9 233.0 L870.2 233.7 L872.6 232.0 L875.0 230.3 L877.5 228.7 L880.0 227.8 L882.5 228.7 L885.0 229.7 L887.5 231.1 L889.9 232.6 L892.4 232.0 L894.8 232.0 L897.2 232.4 L899.5 231.1 L901.7 231.3 L904.0 233.2 L906.1 235.3 L908.2 237.3 L910.3 239.4 L912.3 242.3 L914.3 244.3 L916.2 244.6 L918.0 245.3 L919.9 247.5 L921.6 249.1 L923.4 250.0 L925.1 252.4 L926.8 255.0 L928.4 257.3 L930.0 260.0 L931.6 261.4 L933.1 261.9 L934.6 263.4 L936.1 265.7 L937.6 267.9 L939.0 270.1 L940.4 272.9 L941.8 275.5 L943.2 277.4 L944.6 278.4 L945.9 280.3 L947.2 283.7 L948.5 286.3 L949.8 288.5 L951.0 290.6 L952.3 293.1 L953.5 295.7 L954.7 297.6 L955.9 299.0 L957.1 300.4 L958.3 302.9 L959.4 305.2 L960.6 307.2 L961.7 309.7 L962.8 312.7 L963.9 314.8 L965.0 315.7 L966.1 317.8 L967.2 320.9 L968.3 323.7 L969.3 325.8 L970.4 327.9 L971.4 330.2 L972.4 333.1 L973.4 335.5 L974.4 337.1 L975.4 338.8 L976.4 340.9 L977.4 344.0 L978.4 346.8 L979.4 348.9 L980.3 350.9 L981.3 351.8 L982.2 353.5 L983.2 356.4 L984.1 359.6 L985.0 362.5 L985.9 364.9 L986.9 367.5 L987.8 369.9 L988.7 371.6 L989.5 373.2 L990.4 376.3 L991.3 379.3 L992.2 380.7 L993.1 383.5 L993.9 387.0 L994.8 389.0 L995.6 390.6 L996.5 393.3 L997.3 396.4 L998.2 398.6 L999.0 400.4 L999.8 403.0 L1000.7 405.7 L1001.5 408.5 L1002.3 410.8 L1003.1 412.0 L1003.9 413.9 L1004.7 417.3 L1005.5 420.5 L1006.3 422.6 L1007.1 425.0 L1007.9 427.5 L1008.7 429.2 L1009.5 431.3 L1010.2 433.6 L1011.0 435.9 L1011.8 438.9 L1012.6 441.4 L1013.3 443.0 L1014.1 444.7 L1014.8 447.2 L1015.6 450.1 L1016.3 452.8 L1017.1 455.0 L1017.8 457.1 L1018.6 459.8 L1019.3 462.7 L1020.0 465.1 L1020.8 467.5 L1021.5 469.9 L1022.2 471.5 L1022.9 473.8 L1023.7 476.9 L1024.4 479.7 L1025.1 481.6 L1025.8 482.9 L1026.5 484.6 L1027.2 487.2 L1027.9 490.5 L1028.6 494.0 L1029.3 496.5 L1030.0 498.5 L1030.7 501.0 L1031.4 503.5 L1032.1 505.7 L1032.8 508.1 L1033.5 510.1 L1034.2 511.8 L1034.9 514.9 L1035.5 518.1 L1036.2 520.1 L1036.9 522.2 L1037.6 524.5 L1038.3 527.2 L1038.9 530.0 L1039.6 532.0 L1040.3 533.3 L1041.0 535.2 L1041.6 538.0 L1042.3 540.3 L1043.0 543.1 L1043.6 546.7 L1044.3 549.1 L1044.9 550.9 L1045.6 553.9 L1046.3 556.4 L1046.9 558.6 L1047.6 560.9 L1048.2 562.7 L1048.9 564.7 L1049.5 567.2 L1050.2 570.1 L1050.8 573.0 L1051.5 574.9 L1052.1 577.0 L1052.8 579.8 L1053.4 582.6 L1054.1 585.3 L1054.7 587.8 L1055.4 589.7 L1056.0 591.7 L1056.7 594.4 L1057.3 597.0 L1058.0 599.4 L1058.6 602.4 L1059.2 605.3 L1059.9 607.1 L1060.5 609.6 L1061.2 612.3 L1061.8 614.1 L1062.5 615.9 L1063.1 618.5 L1063.7 621.5 L1064.4 624.2 L1065.0 626.4 L1065.7 629.0 L1066.3 631.9 L1066.9 633.9 L1067.6 635.6 L1068.2 638.1 L1068.8 641.0 L1069.5 643.5 L1070.1 645.6 L1070.8 647.7 L1071.4 649.8 L1072.0 652.1 L1072.7 654.8 L1073.3 657.6 L1074.0 660.0 L1074.6 662.2 L1075.2 664.4 L1075.9 666.7 L1076.5 669.3 L1077.2 672.2 L1077.8 674.7 L1078.4 676.9 L1079.1 679.1 L1079.7 681.4 L1080.4 683.6 L1081.0 686.1 L1081.7 689.0 L1082.3 691.8 L1082.9 694.2 L1083.6 696.5 L1084.2 699.2 L1084.9 701.6 L1085.5 704.1 L1086.2 706.5 L1086.8 708.6 L1087.5 710.8 L1088.1 713.3 L1088.8 715.7 L1089.4 718.4 L1090.1 721.3 L1090.7 723.5 L1091.4 725.1 L1092.1 727.2 L1092.7 729.9 L1093.4 732.8 L1094.0 735.4 L1094.7 737.5 L1095.4 739.8 L1096.0 742.4 L1096.7 744.6 L1097.4 747.3 L1098.0 750.5 L1098.7 753.0 L1099.4 754.9 L1100.0 757.0" stroke="#ff4f00"/><path d="M649.3 760.5 L650.0 758.4 L650.6 756.1 L651.3 753.5 L651.9 750.9 L652.5 748.6 L653.2 746.3 L653.8 744.3 L654.5 742.2 L655.1 739.1 L655.8 735.8 L656.4 733.1 L657.0 730.8 L657.7 728.8 L658.3 727.1 L659.0 724.7 L659.7 722.0 L660.3 719.6 L661.0 716.8 L661.6 713.9 L662.3 711.4 L662.9 709.7 L663.6 707.8 L664.3 705.3 L664.9 703.4 L665.6 701.2 L666.2 698.2 L666.9 695.4 L667.6 693.0 L668.2 690.8 L668.9 688.7 L669.6 686.3 L670.3 684.3 L670.9 682.0 L671.6 679.2 L672.3 676.6 L673.0 674.1 L673.6 671.5 L674.3 668.8 L675.0 666.7 L675.7 664.3 L676.4 662.1 L677.1 660.1 L677.8 657.0 L678.4 654.2 L679.1 651.9 L679.8 649.0 L680.5 646.5 L681.2 644.1 L681.9 642.0 L682.6 640.1 L683.3 638.3 L684.0 636.2 L684.7 634.0 L685.4 631.5 L686.1 628.7 L686.8 626.1 L687.5 623.8 L688.2 621.1 L688.9 618.7 L689.7 617.1 L690.4 614.7 L691.1 612.0 L691.8 609.7 L692.5 607.0 L693.2 604.0 L694.0 601.4 L694.7 599.1 L695.4 596.9 L696.1 594.9 L696.9 593.0 L697.6 590.4 L698.3 587.4 L699.1 584.8 L699.8 582.4 L700.5 580.4 L701.3 578.4 L702.0 575.6 L702.8 572.5 L703.5 570.5 L704.3 568.8 L705.0 566.7 L705.8 564.1 L706.5 561.2 L707.3 558.9 L708.0 556.6 L708.8 554.3 L709.5 552.3 L710.3 549.8 L711.1 547.1 L711.8 544.5 L712.6 541.6 L713.4 539.3 L714.1 537.6 L714.9 535.0 L715.7 532.0 L716.5 529.8 L717.2 528.3 L718.0 526.7 L718.8 524.4 L719.6 521.3 L720.4 518.0 L721.2 516.0 L722.0 514.2 L722.7 512.0 L723.5 509.5 L724.3 507.3 L725.1 505.6 L725.9 503.2 L726.8 499.8 L727.6 497.4 L728.4 495.7 L729.2 493.2 L730.0 491.2 L730.8 488.9 L731.6 485.7 L732.5 483.1 L733.3 480.9 L734.1 478.8 L734.9 476.9 L735.8 475.0 L736.6 472.3 L737.4 469.6 L738.3 467.3 L739.1 464.5 L740.0 462.4 L740.8 460.6 L741.7 457.5 L742.5 454.7 L743.4 452.4 L744.2 449.4 L745.1 447.0 L746.0 445.5 L746.8 443.1 L747.7 440.5 L748.6 438.2 L749.5 435.5 L750.4 433.3 L751.2 432.2 L752.1 430.9 L753.0 428.3 L753.9 425.0 L754.8 421.9 L755.7 419.4 L756.6 417.4 L757.5 415.5 L758.5 413.3 L759.4 410.8 L760.3 408.4 L761.2 405.5 L762.2 403.1 L763.1 401.1 L764.0 398.4 L765.0 395.9 L765.9 394.0 L766.9 392.0 L767.8 390.3 L768.8 388.5 L769.7 386.0 L770.7 383.4 L771.7 381.3 L772.7 378.6 L773.6 375.7 L774.6 373.5 L775.6 371.0 L776.6 368.6 L777.6 366.8 L778.6 364.9 L779.7 363.3 L780.7 360.6 L781.7 357.1 L782.7 355.8 L783.8 355.1 L784.8 353.0 L785.9 350.4 L786.9 347.0 L788.0 343.5 L789.1 341.5 L790.2 340.6 L791.3 338.6 L792.4 335.5 L793.5 333.2 L794.6 330.9 L795.7 327.9 L796.8 326.7 L798.0 326.4 L799.1 324.5 L800.3 321.7 L801.4 319.2 L802.6 316.0 L803.8 312.3 L805.0 310.1 L806.2 309.2 L807.4 308.2 L808.7 306.9 L809.9 304.2 L811.2 300.5 L812.5 298.1 L813.7 297.0 L815.0 294.8 L816.4 291.4 L817.7 289.0 L819.0 288.6 L820.4 287.2 L821.8 284.1 L823.2 282.2 L824.6 280.9 L826.1 279.1 L827.5 277.3 L829.0 275.5 L830.5 272.5 L832.0 269.4 L833.6 266.6 L835.2 263.7 L836.8 263.2 L838.4 263.4 L840.1 261.2 L841.8 258.6 L843.6 256.4 L845.3 253.8 L847.2 253.0 L849.0 253.0 L850.9 251.3 L852.9 249.2 L854.9 249.1 L856.9 248.3 L859.0 245.8 L861.1 243.5 L863.3 240.4 L865.6 239.1 L867.9 240.1 L870.2 240.1 L872.6 238.9 L875.0 237.7 L877.5 237.7 L880.0 239.2 L882.5 239.5 L885.0 237.4 L887.5 236.6 L889.9 238.9 L892.4 240.2 L894.8 240.3 L897.2 241.7 L899.5 243.4 L901.7 243.5 L904.0 242.7 L906.1 242.5 L908.2 243.8 L910.3 246.1 L912.3 248.3 L914.3 250.0 L916.2 251.8 L918.0 254.0 L919.9 254.5 L921.6 255.8 L923.4 257.8 L925.1 259.4 L926.8 262.2 L928.4 264.5 L930.0 266.6 L931.6 269.2 L933.1 270.5 L934.6 271.4 L936.1 272.1 L937.6 273.4 L939.0 276.1 L940.4 278.8 L941.8 281.4 L943.2 283.1 L944.6 283.6 L945.9 285.2 L947.2 288.5 L948.5 292.1 L949.8 294.0 L951.0 295.2 L952.3 297.7 L953.5 300.6 L954.7 302.8 L955.9 304.1 L957.1 306.0 L958.3 309.4 L959.4 312.3 L960.6 314.5 L961.7 316.8 L962.8 318.2 L963.9 320.2 L965.0 323.0 L966.1 325.1 L967.2 326.9 L968.3 328.9 L969.3 331.3 L970.4 334.2 L971.4 336.7 L972.4 339.0 L973.4 341.1 L974.4 342.2 L975.4 344.8 L976.4 348.0 L977.4 349.2 L978.4 351.1 L979.4 354.6 L980.3 356.7 L981.3 358.3 L982.2 360.7 L983.2 362.4 L984.1 364.4 L985.0 367.2 L985.9 369.5 L986.9 371.5 L987.8 373.9 L988.7 376.4 L989.5 379.1 L990.4 381.9 L991.3 384.3 L992.2 385.9 L993.1 387.5 L993.9 389.9 L994.8 393.3 L995.6 396.7 L996.5 398.7 L997.3 400.5 L998.2 402.7 L999.0 405.0 L999.8 407.5 L1000.7 410.0 L1001.5 412.6 L1002.3 414.9 L1003.1 416.9 L1003.9 419.0 L1004.7 421.0 L1005.5 423.8 L1006.3 427.8 L1007.1 431.1 L1007.9 432.4 L1008.7 433.3 L1009.5 435.5 L1010.2 437.9 L1011.0 439.7 L1011.8 442.1 L1012.6 444.8 L1013.3 447.4 L1014.1 450.6 L1014.8 453.1 L1015.6 454.5 L1016.3 456.3 L1017.1 458.3 L1017.8 460.9 L1018.6 464.2 L1019.3 467.1 L1020.0 469.3 L1020.8 471.4 L1021.5 473.6 L1022.2 475.8 L1022.9 477.9 L1023.7 480.9 L1024.4 484.3 L1025.1 486.5 L1025.8 488.1 L1026.5 490.5 L1027.2 493.8 L1027.9 496.0 L1028.6 497.2 L1029.3 499.5 L1030.0 502.7 L1030.7 505.2 L1031.4 507.2 L1032.1 509.6 L1032.8 512.5 L1033.5 515.5 L1034.2 517.5 L1034.9 519.2 L1035.5 521.6 L1036.2 524.5 L1036.9 526.7 L1037.6 528.5 L1038.3 530.8 L1038.9 532.9 L1039.6 535.1 L1040.3 537.4 L1041.0 539.8 L1041.6 542.4 L1042.3 545.2 L1043.0 548.2 L1043.6 550.9 L1044.3 552.7 L1044.9 554.9 L1045.6 557.3 L1046.3 558.9 L1046.9 561.4 L1047.6 564.9 L1048.2 568.0 L1048.9 570.2 L1049.5 572.0 L1050.2 573.8 L1050.8 576.6 L1051.5 579.3 L1052.1 581.4 L1052.8 583.4 L1053.4 585.6 L1054.1 588.4 L1054.7 591.6 L1055.4 594.0 L1056.0 595.6 L1056.7 597.8 L1057.3 600.7 L1058.0 603.3 L1058.6 605.5 L1059.2 607.5 L1059.9 609.5 L1060.5 612.2 L1061.2 615.7 L1061.8 618.2 L1062.5 619.9 L1063.1 622.4 L1063.7 625.3 L1064.4 627.5 L1065.0 629.8 L1065.7 632.6 L1066.3 635.3 L1066.9 638.0 L1067.6 640.2 L1068.2 642.0 L1068.8 644.3 L1069.5 646.6 L1070.1 648.6 L1070.8 651.3 L1071.4 654.1 L1072.0 656.4 L1072.7 659.2 L1073.3 661.7 L1074.0 664.0 L1074.6 666.6 L1075.2 669.3 L1075.9 671.6 L1076.5 673.6 L1077.2 675.7 L1077.8 678.6 L1078.4 681.7 L1079.1 683.8 L1079.7 685.3 L1080.4 687.5 L1081.0 690.1 L1081.7 692.7 L1082.3 695.8 L1082.9 698.3 L1083.6 700.0 L1084.2 702.6 L1084.9 705.2 L1085.5 707.1 L1086.2 709.4 L1086.8 711.9 L1087.5 714.7 L1088.1 717.1 L1088.8 719.2 L1089.4 722.0 L1090.1 724.6 L1090.7 727.3 L1091.4 729.8 L1092.1 732.2 L1092.7 734.6 L1093.4 736.9 L1094.0 738.8 L1094.7 740.9 L1095.4 743.8 L1096.0 746.8 L1096.7 748.9 L1097.4 750.3 L1098.0 752.9 L1098.7 755.7 L1099.4 757.6 L1100.0 760.0" stroke="#ff4f00"/><path d="M703.8 758.3 L704.4 755.6 L705.0 752.5 L705.6 750.5 L706.3 748.4 L706.9 745.7 L707.5 743.0 L708.1 740.2 L708.8 737.4 L709.4 735.1 L710.0 733.2 L710.6 731.1 L711.3 728.8 L711.9 725.4 L712.5 722.1 L713.2 720.3 L713.8 718.5 L714.4 716.2 L715.1 713.5 L715.7 711.1 L716.3 709.1 L717.0 706.5 L717.6 704.0 L718.3 701.3 L718.9 698.8 L719.6 696.5 L720.2 693.3 L720.9 691.0 L721.5 689.3 L722.2 687.1 L722.8 684.8 L723.5 682.2 L724.1 680.0 L724.8 678.1 L725.4 675.3 L726.1 672.2 L726.8 669.5 L727.4 667.3 L728.1 665.5 L728.8 663.2 L729.4 660.4 L730.1 657.9 L730.8 655.4 L731.4 652.6 L732.1 650.3 L732.8 648.1 L733.5 645.6 L734.1 643.4 L734.8 640.8 L735.5 638.7 L736.2 637.1 L736.9 634.9 L737.6 632.3 L738.3 629.7 L739.0 627.4 L739.6 625.2 L740.3 623.1 L741.0 620.8 L741.7 617.6 L742.4 614.8 L743.1 611.6 L743.8 608.2 L744.6 606.2 L745.3 605.0 L746.0 602.9 L746.7 600.5 L747.4 598.6 L748.1 596.3 L748.8 593.6 L749.6 591.7 L750.3 589.5 L751.0 586.4 L751.7 583.6 L752.5 581.6 L753.2 579.0 L753.9 576.3 L754.7 573.9 L755.4 571.7 L756.2 569.8 L756.9 567.7 L757.7 565.3 L758.4 562.4 L759.2 559.4 L759.9 557.3 L760.7 555.2 L761.4 553.2 L762.2 551.3 L763.0 548.2 L763.7 545.3 L764.5 543.6 L765.3 541.2 L766.0 538.4 L766.8 535.9 L767.6 533.8 L768.4 531.7 L769.2 529.2 L770.0 526.5 L770.7 524.3 L771.5 522.3 L772.3 519.1 L773.1 515.4 L773.9 513.2 L774.7 511.5 L775.6 509.5 L776.4 507.6 L777.2 505.6 L778.0 503.1 L778.8 500.4 L779.6 498.3 L780.5 496.2 L781.3 493.4 L782.1 491.2 L783.0 489.3 L783.8 486.1 L784.7 482.9 L785.5 481.0 L786.4 478.9 L787.2 476.8 L788.1 474.9 L788.9 472.4 L789.8 469.8 L790.7 467.7 L791.6 465.4 L792.4 462.8 L793.3 460.4 L794.2 458.0 L795.1 455.3 L796.0 452.9 L796.9 450.5 L797.8 447.7 L798.7 445.6 L799.6 444.1 L800.5 441.7 L801.4 439.1 L802.4 436.8 L803.3 434.5 L804.2 432.2 L805.2 429.7 L806.1 427.4 L807.0 425.3 L808.0 423.0 L809.0 420.4 L809.9 417.2 L810.9 415.1 L811.9 413.8 L812.8 411.3 L813.8 408.7 L814.8 406.4 L815.8 403.9 L816.8 401.2 L817.8 398.4 L818.8 396.4 L819.8 394.8 L820.8 393.2 L821.9 391.0 L822.9 388.5 L824.0 386.5 L825.0 383.2 L826.0 379.4 L827.1 377.6 L828.2 377.0 L829.2 374.8 L830.3 371.7 L831.4 369.1 L832.5 367.3 L833.6 366.0 L834.7 364.2 L835.8 362.0 L837.0 358.5 L838.1 355.3 L839.2 354.0 L840.4 352.0 L841.5 350.0 L842.7 348.4 L843.9 346.0 L845.1 343.8 L846.2 341.0 L847.4 338.4 L848.7 336.4 L849.9 334.4 L851.1 333.0 L852.3 330.9 L853.6 328.3 L854.9 326.1 L856.1 323.8 L857.4 321.5 L858.7 319.4 L860.0 317.2 L861.3 314.7 L862.7 312.1 L864.0 310.3 L865.4 308.3 L866.7 305.6 L868.1 303.3 L869.5 301.7 L870.9 299.9 L872.4 297.7 L873.8 296.4 L875.3 295.1 L876.7 291.9 L878.2 288.5 L879.7 287.4 L881.3 286.3 L882.8 284.2 L884.4 282.6 L885.9 280.7 L887.6 278.1 L889.2 275.5 L890.8 273.2 L892.5 271.5 L894.2 270.2 L895.9 268.8 L897.6 266.8 L899.4 264.5 L901.2 262.9 L903.0 260.7 L904.9 257.7 L906.7 255.8 L908.6 254.8 L910.6 253.7 L912.5 252.3 L914.5 250.5 L916.6 249.1 L918.6 248.7 L920.7 246.7 L922.9 244.2 L925.0 243.0 L927.2 242.9 L929.5 242.9 L931.7 241.1 L934.0 239.4 L936.4 238.8 L938.8 238.0 L941.1 238.1 L943.6 238.5 L946.0 237.8 L948.5 237.4 L951.0 236.7 L953.5 235.9 L956.0 236.9 L958.5 237.4 L961.0 236.4 L963.4 235.8 L965.9 236.8 L968.4 237.2 L970.8 238.1 L973.2 240.3 L975.6 240.4 L977.9 239.8 L980.2 241.2 L982.5 243.3 L984.7 244.8 L986.9 245.9 L989.1 247.6 L991.2 248.2 L993.2 247.5 L995.3 248.2 L997.3 250.2 L999.2 253.2 L1001.2 256.1 L1003.1 256.9 L1004.9 257.0 L1006.7 259.3 L1008.5 261.9 L1010.3 263.1 L1012.0 264.8 L1013.7 266.3 L1015.4 267.7 L1017.1 270.7 L1018.7 273.5 L1020.3 274.8 L1021.8 275.7 L1023.4 277.3 L1024.9 279.9 L1026.4 282.6 L1027.9 284.8 L1029.3 287.5 L1030.8 290.7 L1032.2 292.3 L1033.6 292.7 L1035.0 295.0 L1036.3 298.1 L1037.7 300.3 L1039.0 303.0 L1040.3 305.1 L1041.6 305.9 L1042.9 307.6 L1044.1 309.8 L1045.4 311.4 L1046.6 313.4 L1047.9 316.5 L1049.1 319.3 L1050.3 321.1 L1051.4 323.0 L1052.6 324.8 L1053.8 327.3 L1054.9 329.9 L1056.1 331.1 L1057.2 333.7 L1058.3 336.6 L1059.4 338.7 L1060.5 341.8 L1061.6 344.4 L1062.7 345.9 L1063.7 347.8 L1064.8 350.1 L1065.8 352.9 L1066.9 355.4 L1067.9 358.0 L1068.9 360.8 L1069.9 363.2 L1070.9 365.5 L1071.9 367.1 L1072.9 368.6 L1073.9 371.3 L1074.8 373.6 L1075.8 375.7 L1076.8 378.7 L1077.7 381.1 L1078.7 382.9 L1079.6 384.9 L1080.5 387.5 L1081.4 390.0 L1082.4 392.2 L1083.3 394.0 L1084.2 396.2 L1085.1 399.2 L1086.0 400.8 L1086.8 402.3 L1087.7 405.1 L1088.6 408.2 L1089.5 410.9 L1090.3 413.2 L1091.2 415.5 L1092.0 418.3 L1092.9 421.6 L1093.7 424.3 L1094.6 426.1 L1095.4 427.8 L1096.2 429.8 L1097.1 432.2 L1097.9 435.0 L1098.7 437.2 L1099.5 438.6 L1100.3 440.6 L1101.1 443.0 L1101.9 445.4 L1102.7 448.0 L1103.5 450.4 L1104.3 452.8 L1105.1 456.0 L1105.8 458.5 L1106.6 460.3 L1107.4 462.7 L1108.1 465.5 L1108.9 467.8 L1109.7 470.3 L1110.4 473.3 L1111.2 476.0 L1111.9 478.1 L1112.7 480.5 L1113.4 483.7 L1114.2 486.0 L1114.9 487.4 L1115.6 489.7 L1116.4 492.3 L1117.1 494.4 L1117.8 496.8 L1118.5 499.1 L1119.2 501.2 L1120.0 503.4 L1120.7 505.5 L1121.4 507.7 L1122.1 510.7 L1122.8 514.5 L1123.5 517.5 L1124.2 519.4 L1124.9 521.5 L1125.6 524.0 L1126.3 526.6 L1127.0 529.0 L1127.6 530.9 L1128.3 532.7 L1129.0 535.1 L1129.7 537.3 L1130.4 539.2 L1131.1 541.8 L1131.7 545.1 L1132.4 547.6 L1133.1 549.7 L1133.7 552.9 L1134.4 555.5 L1135.1 557.0 L1135.7 559.1 L1136.4 561.9 L1137.1 564.5 L1137.7 566.4 L1138.4 568.5 L1139.0 570.9 L1139.7 573.1 L1140.3 576.1 L1141.0 579.3 L1141.6 581.7 L1142.3 584.0 L1142.9 586.5 L1143.5 588.8 L1144.2 590.8 L1144.8 592.8 L1145.5 595.3 L1146.1 598.2 L1146.7 601.3 L1147.4 603.9 L1148.0 605.7 L1148.6 607.3 L1149.3 609.6 L1149.9 612.6 L1150.5 615.6 L1151.2 617.8 L1151.8 619.7 L1152.4 622.1 L1153.0 624.9 L1153.7 627.4 L1154.3 629.6 L1154.9 632.3 L1155.5 635.1 L1156.1 637.4 L1156.8 640.2 L1157.4 642.5 L1158.0 644.5 L1158.6 646.8 L1159.2 648.9 L1159.8 650.9 L1160.5 653.3 L1161.1 655.9 L1161.7 658.6 L1162.3 661.3 L1162.9 663.9 L1163.5 665.7 L1164.1 667.2 L1164.7 669.8 L1165.4 672.5 L1166.0 675.1 L1166.6 677.7 L1167.2 680.6 L1167.8 683.1 L1168.4 684.9 L1169.0 687.4 L1169.6 689.8 L1170.2 691.9 L1170.8 694.9 L1171.4 697.5 L1172.0 699.5 L1172.6 702.5 L1173.3 705.8 L1173.9 707.3 L1174.5 708.5 L1175.1 711.1 L1175.7 714.0 L1176.3 716.6 L1176.9 718.9 L1177.5 721.3 L1178.1 724.0 L1178.7 726.2 L1179.3 728.1 L1179.9 730.7 L1180.5 733.7 L1181.1 736.6 L1181.7 739.0 L1182.3 741.1 L1182.9 743.5 L1183.5 746.5 L1184.1 749.1 L1184.8 751.1 L1185.4 753.4 L1186.0 756.0" stroke="#808080"/><path d="M703.8 760.5 L704.4 758.3 L705.0 756.0 L705.6 753.5 L706.3 751.5 L706.9 749.5 L707.5 746.9 L708.1 744.1 L708.8 742.0 L709.4 739.8 L710.0 736.7 L710.6 734.2 L711.3 732.2 L711.9 729.7 L712.5 727.3 L713.2 724.9 L713.8 722.7 L714.4 720.3 L715.1 717.5 L715.7 714.9 L716.3 712.4 L717.0 709.8 L717.6 707.3 L718.3 704.9 L718.9 703.2 L719.6 701.6 L720.2 699.3 L720.9 696.2 L721.5 693.3 L722.2 691.0 L722.8 688.3 L723.5 686.1 L724.1 684.0 L724.8 681.2 L725.4 678.8 L726.1 676.5 L726.8 673.6 L727.4 671.1 L728.1 668.9 L728.8 666.7 L729.4 664.8 L730.1 662.2 L730.8 659.0 L731.4 656.4 L732.1 654.1 L732.8 651.4 L733.5 649.1 L734.1 647.1 L734.8 644.5 L735.5 641.7 L736.2 639.7 L736.9 637.6 L737.6 634.8 L738.3 632.6 L739.0 631.3 L739.6 628.7 L740.3 625.1 L741.0 622.5 L741.7 620.6 L742.4 618.1 L743.1 615.7 L743.8 613.6 L744.6 611.0 L745.3 607.5 L746.0 604.8 L746.7 603.4 L747.4 601.9 L748.1 599.2 L748.8 596.3 L749.6 594.6 L750.3 592.6 L751.0 589.8 L751.7 587.3 L752.5 585.4 L753.2 583.3 L753.9 580.7 L754.7 578.1 L755.4 575.5 L756.2 572.7 L756.9 570.3 L757.7 568.2 L758.4 565.8 L759.2 563.6 L759.9 561.7 L760.7 559.4 L761.4 556.6 L762.2 553.7 L763.0 551.5 L763.7 549.0 L764.5 546.3 L765.3 544.3 L766.0 542.7 L766.8 540.3 L767.6 537.1 L768.4 534.4 L769.2 532.4 L770.0 530.5 L770.7 528.3 L771.5 524.9 L772.3 522.0 L773.1 520.4 L773.9 518.5 L774.7 516.4 L775.6 514.6 L776.4 512.5 L777.2 509.3 L778.0 506.0 L778.8 503.5 L779.6 501.9 L780.5 500.1 L781.3 497.7 L782.1 495.5 L783.0 493.3 L783.8 491.1 L784.7 488.2 L785.5 485.0 L786.4 482.3 L787.2 479.6 L788.1 477.4 L788.9 476.1 L789.8 474.8 L790.7 472.7 L791.6 469.6 L792.4 466.5 L793.3 464.2 L794.2 462.5 L795.1 460.2 L796.0 457.5 L796.9 455.5 L797.8 452.9 L798.7 450.0 L799.6 448.2 L800.5 446.1 L801.4 443.4 L802.4 441.4 L803.3 440.2 L804.2 438.4 L805.2 435.4 L806.1 431.8 L807.0 429.4 L808.0 427.5 L809.0 424.6 L809.9 421.7 L810.9 419.9 L811.9 419.1 L812.8 417.2 L813.8 414.3 L814.8 411.6 L815.8 408.9 L816.8 406.7 L817.8 404.6 L818.8 402.4 L819.8 400.4 L820.8 397.6 L821.9 395.2 L822.9 393.7 L824.0 391.4 L825.0 388.9 L826.0 385.8 L827.1 383.0 L828.2 381.3 L829.2 379.4 L830.3 377.3 L831.4 374.1 L832.5 371.6 L833.6 370.6 L834.7 369.0 L835.8 366.2 L837.0 363.7 L838.1 361.7 L839.2 359.0 L840.4 356.5 L841.5 354.6 L842.7 352.9 L843.9 351.2 L845.1 348.8 L846.2 347.0 L847.4 344.5 L848.7 341.0 L849.9 338.6 L851.1 337.1 L852.3 335.4 L853.6 333.0 L854.9 330.6 L856.1 329.5 L857.4 328.0 L858.7 324.8 L860.0 322.0 L861.3 320.3 L862.7 318.7 L864.0 317.0 L865.4 315.1 L866.7 313.0 L868.1 311.1 L869.5 308.6 L870.9 304.9 L872.4 303.0 L873.8 301.9 L875.3 299.8 L876.7 298.0 L878.2 295.9 L879.7 293.8 L881.3 291.7 L882.8 290.0 L884.4 288.7 L885.9 286.7 L887.6 285.5 L889.2 284.7 L890.8 281.7 L892.5 279.0 L894.2 278.3 L895.9 277.4 L897.6 276.2 L899.4 274.0 L901.2 271.0 L903.0 269.9 L904.9 268.8 L906.7 266.3 L908.6 262.9 L910.6 259.6 L912.5 259.9 L914.5 260.1 L916.6 257.0 L918.6 255.5 L920.7 255.7 L922.9 255.6 L925.0 253.9 L927.2 250.8 L929.5 250.2 L931.7 249.8 L934.0 247.8 L936.4 248.1 L938.8 249.6 L941.1 248.9 L943.6 245.6 L946.0 242.8 L948.5 243.6 L951.0 244.7 L953.5 244.2 L956.0 245.6 L958.5 247.3 L961.0 245.3 L963.4 243.8 L965.9 244.7 L968.4 245.2 L970.8 245.6 L973.2 247.0 L975.6 248.4 L977.9 248.5 L980.2 248.3 L982.5 249.9 L984.7 251.7 L986.9 253.0 L989.1 255.2 L991.2 256.1 L993.2 256.2 L995.3 258.8 L997.3 262.2 L999.2 263.4 L1001.2 263.7 L1003.1 264.7 L1004.9 265.0 L1006.7 266.1 L1008.5 269.2 L1010.3 271.6 L1012.0 273.3 L1013.7 274.8 L1015.4 276.4 L1017.1 278.1 L1018.7 280.6 L1020.3 282.8 L1021.8 284.5 L1023.4 285.7 L1024.9 286.3 L1026.4 288.9 L1027.9 293.2 L1029.3 295.7 L1030.8 296.5 L1032.2 297.3 L1033.6 298.9 L1035.0 301.9 L1036.3 304.1 L1037.7 305.4 L1039.0 308.1 L1040.3 310.9 L1041.6 312.4 L1042.9 313.9 L1044.1 316.0 L1045.4 318.3 L1046.6 321.4 L1047.9 323.2 L1049.1 324.8 L1050.3 328.2 L1051.4 330.5 L1052.6 332.4 L1053.8 334.8 L1054.9 336.2 L1056.1 338.5 L1057.2 340.6 L1058.3 341.9 L1059.4 344.8 L1060.5 347.4 L1061.6 349.0 L1062.7 351.0 L1063.7 353.4 L1064.8 355.2 L1065.8 357.3 L1066.9 359.6 L1067.9 362.4 L1068.9 365.3 L1069.9 366.8 L1070.9 368.7 L1071.9 371.5 L1072.9 374.4 L1073.9 377.2 L1074.8 379.4 L1075.8 381.0 L1076.8 383.1 L1077.7 385.8 L1078.7 388.6 L1079.6 390.7 L1080.5 391.9 L1081.4 394.2 L1082.4 398.1 L1083.3 400.7 L1084.2 402.3 L1085.1 404.3 L1086.0 406.0 L1086.8 408.0 L1087.7 410.6 L1088.6 413.1 L1089.5 415.0 L1090.3 417.1 L1091.2 420.1 L1092.0 422.9 L1092.9 425.0 L1093.7 426.8 L1094.6 428.7 L1095.4 431.5 L1096.2 434.1 L1097.1 435.8 L1097.9 438.1 L1098.7 441.1 L1099.5 443.7 L1100.3 446.2 L1101.1 448.7 L1101.9 451.1 L1102.7 453.0 L1103.5 454.9 L1104.3 457.6 L1105.1 460.4 L1105.8 463.0 L1106.6 465.0 L1107.4 467.5 L1108.1 470.5 L1108.9 473.3 L1109.7 475.6 L1110.4 477.8 L1111.2 480.1 L1111.9 482.5 L1112.7 484.9 L1113.4 487.0 L1114.2 489.1 L1114.9 492.0 L1115.6 494.9 L1116.4 496.6 L1117.1 498.3 L1117.8 500.7 L1118.5 503.2 L1119.2 505.5 L1120.0 507.1 L1120.7 509.4 L1121.4 512.2 L1122.1 514.6 L1122.8 517.4 L1123.5 520.4 L1124.2 523.4 L1124.9 525.9 L1125.6 527.6 L1126.3 529.2 L1127.0 531.2 L1127.6 533.8 L1128.3 536.2 L1129.0 538.3 L1129.7 541.2 L1130.4 544.2 L1131.1 546.6 L1131.7 548.8 L1132.4 551.0 L1133.1 553.2 L1133.7 555.3 L1134.4 557.6 L1135.1 560.9 L1135.7 564.0 L1136.4 566.2 L1137.1 568.1 L1137.7 570.4 L1138.4 573.1 L1139.0 575.5 L1139.7 577.9 L1140.3 580.1 L1141.0 582.4 L1141.6 585.2 L1142.3 587.6 L1142.9 589.9 L1143.5 592.4 L1144.2 594.6 L1144.8 596.9 L1145.5 599.5 L1146.1 601.8 L1146.7 604.1 L1147.4 606.1 L1148.0 608.2 L1148.6 610.8 L1149.3 613.6 L1149.9 616.5 L1150.5 618.9 L1151.2 620.7 L1151.8 622.8 L1152.4 624.9 L1153.0 627.4 L1153.7 629.9 L1154.3 631.8 L1154.9 634.5 L1155.5 637.8 L1156.1 640.6 L1156.8 642.8 L1157.4 645.5 L1158.0 648.5 L1158.6 650.4 L1159.2 652.6 L1159.8 655.7 L1160.5 658.0 L1161.1 660.1 L1161.7 662.8 L1162.3 665.2 L1162.9 667.5 L1163.5 669.6 L1164.1 671.8 L1164.7 674.7 L1165.4 676.9 L1166.0 678.7 L1166.6 681.4 L1167.2 684.3 L1167.8 686.6 L1168.4 689.1 L1169.0 691.7 L1169.6 693.7 L1170.2 695.8 L1170.8 698.8 L1171.4 701.8 L1172.0 704.4 L1172.6 706.9 L1173.3 709.0 L1173.9 711.5 L1174.5 714.0 L1175.1 716.2 L1175.7 719.1 L1176.3 721.7 L1176.9 724.0 L1177.5 726.4 L1178.1 728.3 L1178.7 730.2 L1179.3 733.0 L1179.9 735.5 L1180.5 737.7 L1181.1 740.3 L1181.7 743.0 L1182.3 745.1 L1182.9 747.1 L1183.5 749.8 L1184.1 752.3 L1184.8 754.2 L1185.4 756.5 L1186.0 759.1" stroke="#808080"/></g>
<g fill="none" stroke="#000" stroke-width="6" stroke-linejoin="round" clip-path="url(#ax)"><path d="M493.2 764.0 L494.4 755.7 L495.7 747.4 L497.0 739.2 L498.4 731.1 L499.8 723.0 L501.2 715.0 L502.7 707.0 L504.2 699.1 L505.8 691.2 L507.3 683.4 L508.9 675.7 L510.5 668.0 L512.1 660.3 L513.8 652.7 L515.4 645.2 L517.0 637.7 L518.7 630.3 L520.3 623.0 L522.0 615.7 L523.6 608.4 L525.2 601.2 L526.9 594.1 L528.5 587.0 L530.1 580.0 L531.7 573.0 L533.3 566.1 L534.8 559.2 L536.4 552.4 L537.9 545.7 L539.5 539.0 L541.0 532.3 L542.4 525.8 L543.9 519.2 L545.3 512.8 L546.8 506.4 L548.2 500.0 L549.5 493.7 L550.9 487.5 L552.2 481.3 L553.5 475.1 L554.8 469.0 L556.0 463.0 L557.2 457.1 L558.4 451.1 L559.6 445.3 L560.7 439.5 L561.8 433.7 L562.9 428.1 L564.0 422.4 L565.0 416.9 L566.0 411.3 L567.0 405.9 L568.0 400.5 L568.9 395.1 L569.8 389.8 L570.7 384.6 L571.6 379.4 L572.4 374.2 L573.2 369.2 L574.0 364.2 L574.8 359.2 L575.5 354.3 L576.2 349.4 L576.9 344.6 L577.6 339.9 L578.2 335.2 L578.9 330.6 L579.5 326.0 L580.1 321.5 L580.6 317.0 L581.2 312.6 L581.7 308.3 L582.2 304.0 L582.7 299.7 L583.2 295.6 L583.7 291.4 L584.1 287.4 L584.6 283.3 L585.0 279.4 L585.4 275.5 L585.8 271.6 L586.2 267.8 L586.5 264.1 L586.9 260.4 L587.2 256.8 L587.5 253.2 L587.8 249.7 L588.1 246.3 L588.4 242.9 L588.7 239.5 L589.0 236.2 L589.3 233.0 L589.5 229.8 L589.8 226.7 L590.0 223.6 L590.3 220.6 L590.5 217.7 L590.7 214.8 L590.9 211.9 L591.1 209.1 L591.3 206.4 L591.5 203.7 L591.7 201.1 L591.9 198.5 L592.1 196.0 L592.3 193.6 L592.5 191.2 L592.7 188.8 L592.8 186.5 L593.0 184.3 L593.2 182.1 L593.4 180.0 L593.5 177.9 L593.7 175.9 L593.9 174.0 L594.0 172.1 L594.2 170.3 L594.3 168.5 L594.5 166.7 L594.7 165.1 L594.8 163.4 L595.0 161.9 L595.1 160.4 L595.3 158.9 L595.5 157.5 L595.6 156.2 L595.8 154.9 L595.9 153.7 L596.1 152.5 L596.3 151.4 L596.4 150.3 L596.6 149.3 L596.7 148.4 L596.9 147.5 L597.1 146.7 L597.2 145.9 L597.4 145.2 L597.6 144.5 L597.7 143.9 L597.9 143.3 L598.0 142.8 L598.2 142.4 L598.4 142.0 L598.5 141.6 L598.7 141.4 L598.9 141.1 L599.1 141.0 L599.2 140.9 L599.4 140.8 L599.6 140.8 L599.7 140.9 L599.9 141.0 L600.1 141.1 L600.2 141.4 L600.4 141.6 L600.6 142.0 L600.7 142.4 L600.9 142.8 L601.1 143.3 L601.2 143.9 L601.4 144.5 L601.6 145.2 L601.8 145.9 L601.9 146.7 L602.1 147.5 L602.3 148.4 L602.4 149.3 L602.6 150.3 L602.8 151.4 L602.9 152.5 L603.1 153.7 L603.3 154.9 L603.4 156.2 L603.6 157.5 L603.7 158.9 L603.9 160.4 L604.1 161.9 L604.2 163.4 L604.4 165.1 L604.6 166.7 L604.7 168.5 L604.9 170.3 L605.1 172.1 L605.2 174.0 L605.4 175.9 L605.6 177.9 L605.8 180.0 L605.9 182.1 L606.1 184.3 L606.3 186.5 L606.5 188.8 L606.6 191.2 L606.8 193.6 L607.0 196.0 L607.2 198.5 L607.4 201.1 L607.6 203.7 L607.8 206.4 L608.0 209.1 L608.2 211.9 L608.4 214.8 L608.7 217.7 L608.9 220.6 L609.1 223.6 L609.4 226.7 L609.6 229.8 L609.9 233.0 L610.1 236.2 L610.4 239.5 L610.7 242.9 L611.0 246.3 L611.3 249.7 L611.6 253.2 L611.9 256.8 L612.2 260.4 L612.5 264.1 L612.9 267.8 L613.3 271.6 L613.6 275.5 L614.0 279.4 L614.4 283.3 L614.8 287.4 L615.3 291.4 L615.7 295.6 L616.2 299.7 L616.7 304.0 L617.2 308.3 L617.7 312.6 L618.2 317.0 L618.8 321.5 L619.3 326.0 L619.9 330.6 L620.5 335.2 L621.1 339.9 L621.8 344.6 L622.5 349.4 L623.2 354.3 L623.9 359.2 L624.6 364.2 L625.4 369.2 L626.2 374.2 L627.0 379.4 L627.8 384.6 L628.7 389.8 L629.5 395.1 L630.5 400.5 L631.4 405.9 L632.3 411.3 L633.3 416.9 L634.4 422.4 L635.4 428.1 L636.5 433.7 L637.6 439.5 L638.7 445.3 L639.8 451.1 L641.0 457.1 L642.2 463.0 L643.5 469.0 L644.7 475.1 L646.0 481.3 L647.3 487.5 L648.7 493.7 L650.0 500.0 L651.4 506.4 L652.9 512.8 L654.3 519.2 L655.8 525.8 L657.3 532.3 L658.8 539.0 L660.4 545.7 L661.9 552.4 L663.5 559.2 L665.1 566.1 L666.8 573.0 L668.4 580.0 L670.1 587.0 L671.8 594.1 L673.5 601.2 L675.2 608.4 L676.9 615.7 L678.7 623.0 L680.4 630.3 L682.2 637.7 L683.9 645.2 L685.7 652.7 L687.4 660.3 L689.2 668.0 L691.0 675.7 L692.7 683.4 L694.5 691.2 L696.2 699.1 L697.9 707.0 L699.6 715.0 L701.3 723.0 L702.9 731.1 L704.6 739.2 L706.1 747.4 L707.7 755.7 L709.2 764.0"/><path d="M543.3 764.0 L544.4 756.3 L545.6 748.6 L546.7 741.0 L547.9 733.5 L549.2 726.0 L550.4 718.5 L551.7 711.1 L553.0 703.7 L554.4 696.4 L555.7 689.2 L557.1 682.0 L558.5 674.9 L559.8 667.8 L561.2 660.7 L562.7 653.7 L564.1 646.8 L565.5 639.9 L566.9 633.1 L568.4 626.3 L569.8 619.6 L571.2 612.9 L572.6 606.3 L574.1 599.7 L575.5 593.2 L576.9 586.7 L578.3 580.3 L579.7 573.9 L581.2 567.6 L582.5 561.3 L583.9 555.1 L585.3 549.0 L586.7 542.9 L588.0 536.8 L589.4 530.8 L590.7 524.8 L592.0 518.9 L593.4 513.1 L594.7 507.3 L595.9 501.5 L597.2 495.8 L598.5 490.2 L599.7 484.6 L600.9 479.1 L602.1 473.6 L603.3 468.2 L604.5 462.8 L605.7 457.4 L606.8 452.2 L608.0 446.9 L609.1 441.8 L610.2 436.6 L611.3 431.6 L612.4 426.5 L613.4 421.6 L614.5 416.6 L615.5 411.8 L616.5 407.0 L617.5 402.2 L618.5 397.5 L619.4 392.8 L620.4 388.2 L621.3 383.7 L622.3 379.2 L623.2 374.7 L624.1 370.3 L624.9 366.0 L625.8 361.7 L626.7 357.4 L627.5 353.2 L628.3 349.1 L629.1 345.0 L629.9 341.0 L630.7 337.0 L631.5 333.0 L632.3 329.2 L633.0 325.3 L633.7 321.5 L634.5 317.8 L635.2 314.1 L635.9 310.5 L636.6 307.0 L637.3 303.4 L637.9 300.0 L638.6 296.5 L639.3 293.2 L639.9 289.9 L640.6 286.6 L641.2 283.4 L641.8 280.2 L642.4 277.1 L643.0 274.1 L643.6 271.1 L644.2 268.1 L644.8 265.2 L645.4 262.4 L645.9 259.6 L646.5 256.8 L647.1 254.1 L647.6 251.5 L648.2 248.9 L648.7 246.4 L649.2 243.9 L649.8 241.5 L650.3 239.1 L650.8 236.8 L651.3 234.5 L651.8 232.3 L652.3 230.1 L652.8 228.0 L653.3 225.9 L653.8 223.9 L654.3 221.9 L654.8 220.0 L655.3 218.1 L655.8 216.3 L656.3 214.5 L656.8 212.8 L657.2 211.2 L657.7 209.6 L658.2 208.0 L658.7 206.5 L659.1 205.1 L659.6 203.7 L660.1 202.3 L660.5 201.0 L661.0 199.8 L661.5 198.6 L661.9 197.5 L662.4 196.4 L662.8 195.3 L663.3 194.4 L663.8 193.4 L664.2 192.5 L664.7 191.7 L665.1 190.9 L665.6 190.2 L666.0 189.5 L666.5 188.9 L666.9 188.4 L667.4 187.8 L667.9 187.4 L668.3 187.0 L668.8 186.6 L669.2 186.3 L669.7 186.0 L670.1 185.8 L670.6 185.7 L671.0 185.6 L671.5 185.5 L672.0 185.5 L672.4 185.6 L672.9 185.7 L673.3 185.8 L673.8 186.0 L674.2 186.3 L674.7 186.6 L675.2 187.0 L675.6 187.4 L676.1 187.8 L676.6 188.4 L677.0 188.9 L677.5 189.5 L677.9 190.2 L678.4 190.9 L678.9 191.7 L679.4 192.5 L679.8 193.4 L680.3 194.4 L680.8 195.3 L681.2 196.4 L681.7 197.5 L682.2 198.6 L682.7 199.8 L683.2 201.0 L683.6 202.3 L684.1 203.7 L684.6 205.1 L685.1 206.5 L685.6 208.0 L686.1 209.6 L686.6 211.2 L687.1 212.8 L687.6 214.5 L688.1 216.3 L688.6 218.1 L689.1 220.0 L689.6 221.9 L690.1 223.9 L690.7 225.9 L691.2 228.0 L691.7 230.1 L692.2 232.3 L692.8 234.5 L693.3 236.8 L693.9 239.1 L694.4 241.5 L695.0 243.9 L695.5 246.4 L696.1 248.9 L696.6 251.5 L697.2 254.1 L697.8 256.8 L698.4 259.6 L699.0 262.4 L699.6 265.2 L700.2 268.1 L700.8 271.1 L701.4 274.1 L702.0 277.1 L702.7 280.2 L703.3 283.4 L704.0 286.6 L704.6 289.9 L705.3 293.2 L706.0 296.5 L706.6 300.0 L707.3 303.4 L708.0 307.0 L708.8 310.5 L709.5 314.1 L710.2 317.8 L710.9 321.5 L711.7 325.3 L712.5 329.2 L713.2 333.0 L714.0 337.0 L714.8 341.0 L715.6 345.0 L716.5 349.1 L717.3 353.2 L718.1 357.4 L719.0 361.7 L719.9 366.0 L720.8 370.3 L721.7 374.7 L722.6 379.2 L723.5 383.7 L724.4 388.2 L725.4 392.8 L726.4 397.5 L727.3 402.2 L728.3 407.0 L729.4 411.8 L730.4 416.6 L731.4 421.6 L732.5 426.5 L733.6 431.6 L734.6 436.6 L735.7 441.8 L736.9 446.9 L738.0 452.2 L739.1 457.4 L740.3 462.8 L741.5 468.2 L742.7 473.6 L743.9 479.1 L745.1 484.6 L746.4 490.2 L747.6 495.8 L748.9 501.5 L750.2 507.3 L751.5 513.1 L752.8 518.9 L754.1 524.8 L755.4 530.8 L756.8 536.8 L758.1 542.9 L759.5 549.0 L760.9 555.1 L762.3 561.3 L763.7 567.6 L765.1 573.9 L766.5 580.3 L767.9 586.7 L769.4 593.2 L770.8 599.7 L772.3 606.3 L773.7 612.9 L775.2 619.6 L776.6 626.3 L778.1 633.1 L779.6 639.9 L781.0 646.8 L782.5 653.7 L783.9 660.7 L785.4 667.8 L786.8 674.9 L788.3 682.0 L789.7 689.2 L791.1 696.4 L792.5 703.7 L793.9 711.1 L795.2 718.5 L796.6 726.0 L797.9 733.5 L799.2 741.0 L800.5 748.6 L801.8 756.3 L803.0 764.0"/><path d="M593.7 764.0 L594.9 756.6 L596.2 749.2 L597.4 741.9 L598.7 734.6 L600.0 727.4 L601.3 720.2 L602.6 713.1 L603.9 706.0 L605.2 699.0 L606.5 692.0 L607.9 685.1 L609.2 678.2 L610.5 671.4 L611.9 664.6 L613.2 657.9 L614.6 651.2 L615.9 644.6 L617.3 638.0 L618.6 631.5 L620.0 625.0 L621.3 618.6 L622.7 612.2 L624.0 605.9 L625.4 599.6 L626.7 593.3 L628.1 587.2 L629.4 581.0 L630.7 575.0 L632.1 568.9 L633.4 563.0 L634.7 557.0 L636.0 551.1 L637.3 545.3 L638.6 539.5 L639.9 533.8 L641.2 528.1 L642.5 522.5 L643.8 516.9 L645.1 511.4 L646.3 505.9 L647.6 500.5 L648.8 495.1 L650.1 489.8 L651.3 484.5 L652.5 479.3 L653.8 474.1 L655.0 468.9 L656.2 463.9 L657.4 458.8 L658.6 453.8 L659.7 448.9 L660.9 444.0 L662.1 439.2 L663.2 434.4 L664.4 429.7 L665.5 425.0 L666.6 420.4 L667.8 415.8 L668.9 411.2 L670.0 406.8 L671.1 402.3 L672.2 397.9 L673.2 393.6 L674.3 389.3 L675.4 385.1 L676.4 380.9 L677.5 376.8 L678.5 372.7 L679.5 368.6 L680.5 364.7 L681.6 360.7 L682.6 356.8 L683.6 353.0 L684.5 349.2 L685.5 345.5 L686.5 341.8 L687.5 338.1 L688.4 334.6 L689.4 331.0 L690.3 327.5 L691.3 324.1 L692.2 320.7 L693.1 317.4 L694.0 314.1 L694.9 310.8 L695.8 307.7 L696.7 304.5 L697.6 301.4 L698.5 298.4 L699.4 295.4 L700.3 292.5 L701.1 289.6 L702.0 286.7 L702.8 283.9 L703.7 281.2 L704.5 278.5 L705.4 275.9 L706.2 273.3 L707.0 270.7 L707.8 268.2 L708.7 265.8 L709.5 263.4 L710.3 261.1 L711.1 258.8 L711.9 256.5 L712.7 254.3 L713.5 252.2 L714.3 250.1 L715.0 248.1 L715.8 246.1 L716.6 244.1 L717.4 242.2 L718.1 240.4 L718.9 238.6 L719.7 236.9 L720.4 235.2 L721.2 233.5 L721.9 231.9 L722.7 230.4 L723.4 228.9 L724.2 227.4 L724.9 226.0 L725.6 224.7 L726.4 223.4 L727.1 222.2 L727.8 221.0 L728.6 219.8 L729.3 218.7 L730.0 217.7 L730.7 216.7 L731.5 215.7 L732.2 214.8 L732.9 214.0 L733.6 213.2 L734.3 212.4 L735.1 211.7 L735.8 211.1 L736.5 210.5 L737.2 209.9 L737.9 209.4 L738.6 209.0 L739.3 208.6 L740.0 208.3 L740.7 208.0 L741.5 207.7 L742.2 207.5 L742.9 207.4 L743.6 207.3 L744.3 207.2 L745.0 207.2 L745.7 207.3 L746.4 207.4 L747.1 207.5 L747.8 207.7 L748.6 208.0 L749.3 208.3 L750.0 208.6 L750.7 209.0 L751.4 209.4 L752.1 209.9 L752.8 210.5 L753.6 211.1 L754.3 211.7 L755.0 212.4 L755.7 213.2 L756.4 214.0 L757.2 214.8 L757.9 215.7 L758.6 216.7 L759.3 217.7 L760.1 218.7 L760.8 219.8 L761.6 221.0 L762.3 222.2 L763.0 223.4 L763.8 224.7 L764.5 226.0 L765.3 227.4 L766.0 228.9 L766.8 230.4 L767.5 231.9 L768.3 233.5 L769.1 235.2 L769.8 236.9 L770.6 238.6 L771.4 240.4 L772.2 242.2 L772.9 244.1 L773.7 246.1 L774.5 248.1 L775.3 250.1 L776.1 252.2 L776.9 254.3 L777.7 256.5 L778.5 258.8 L779.4 261.1 L780.2 263.4 L781.0 265.8 L781.8 268.2 L782.7 270.7 L783.5 273.3 L784.4 275.9 L785.2 278.5 L786.1 281.2 L786.9 283.9 L787.8 286.7 L788.7 289.6 L789.6 292.5 L790.5 295.4 L791.4 298.4 L792.3 301.4 L793.2 304.5 L794.1 307.7 L795.0 310.8 L795.9 314.1 L796.9 317.4 L797.8 320.7 L798.7 324.1 L799.7 327.5 L800.7 331.0 L801.6 334.6 L802.6 338.1 L803.6 341.8 L804.6 345.5 L805.6 349.2 L806.6 353.0 L807.6 356.8 L808.6 360.7 L809.6 364.7 L810.7 368.6 L811.7 372.7 L812.8 376.8 L813.8 380.9 L814.9 385.1 L816.0 389.3 L817.1 393.6 L818.2 397.9 L819.3 402.3 L820.4 406.8 L821.5 411.2 L822.6 415.8 L823.8 420.4 L824.9 425.0 L826.1 429.7 L827.2 434.4 L828.4 439.2 L829.6 444.0 L830.8 448.9 L831.9 453.8 L833.1 458.8 L834.4 463.9 L835.6 468.9 L836.8 474.1 L838.0 479.3 L839.3 484.5 L840.5 489.8 L841.8 495.1 L843.1 500.5 L844.3 505.9 L845.6 511.4 L846.9 516.9 L848.2 522.5 L849.5 528.1 L850.8 533.8 L852.1 539.5 L853.4 545.3 L854.8 551.1 L856.1 557.0 L857.4 563.0 L858.8 568.9 L860.1 575.0 L861.5 581.0 L862.8 587.2 L864.2 593.3 L865.5 599.6 L866.9 605.9 L868.3 612.2 L869.6 618.6 L871.0 625.0 L872.4 631.5 L873.7 638.0 L875.1 644.6 L876.5 651.2 L877.8 657.9 L879.2 664.6 L880.5 671.4 L881.9 678.2 L883.3 685.1 L884.6 692.0 L885.9 699.0 L887.3 706.0 L888.6 713.1 L889.9 720.2 L891.2 727.4 L892.6 734.6 L893.8 741.9 L895.1 749.2 L896.4 756.6 L897.6 764.0"/><path d="M640.8 764.0 L642.2 756.8 L643.5 749.6 L644.8 742.4 L646.2 735.3 L647.6 728.3 L648.9 721.3 L650.3 714.3 L651.7 707.4 L653.1 700.6 L654.5 693.8 L656.0 687.0 L657.4 680.3 L658.8 673.6 L660.2 667.0 L661.6 660.5 L663.1 654.0 L664.5 647.5 L665.9 641.1 L667.3 634.7 L668.8 628.4 L670.2 622.1 L671.6 615.9 L673.0 609.7 L674.5 603.6 L675.9 597.5 L677.3 591.5 L678.7 585.5 L680.1 579.6 L681.5 573.7 L682.9 567.9 L684.3 562.1 L685.7 556.3 L687.1 550.7 L688.4 545.0 L689.8 539.4 L691.2 533.9 L692.5 528.4 L693.9 523.0 L695.2 517.6 L696.6 512.2 L697.9 506.9 L699.2 501.7 L700.5 496.5 L701.9 491.3 L703.2 486.2 L704.5 481.2 L705.8 476.1 L707.0 471.2 L708.3 466.3 L709.6 461.4 L710.9 456.6 L712.1 451.8 L713.4 447.1 L714.6 442.5 L715.9 437.8 L717.1 433.3 L718.3 428.8 L719.6 424.3 L720.8 419.9 L722.0 415.5 L723.2 411.2 L724.4 406.9 L725.6 402.6 L726.7 398.5 L727.9 394.3 L729.1 390.3 L730.3 386.2 L731.4 382.2 L732.6 378.3 L733.7 374.4 L734.9 370.6 L736.0 366.8 L737.2 363.0 L738.3 359.3 L739.4 355.7 L740.5 352.1 L741.7 348.5 L742.8 345.0 L743.9 341.6 L745.0 338.2 L746.1 334.8 L747.2 331.5 L748.3 328.3 L749.4 325.1 L750.5 321.9 L751.5 318.8 L752.6 315.7 L753.7 312.7 L754.8 309.8 L755.8 306.8 L756.9 304.0 L758.0 301.2 L759.0 298.4 L760.1 295.7 L761.1 293.0 L762.2 290.4 L763.3 287.8 L764.3 285.3 L765.4 282.8 L766.4 280.4 L767.4 278.0 L768.5 275.6 L769.5 273.4 L770.6 271.1 L771.6 268.9 L772.6 266.8 L773.7 264.7 L774.7 262.7 L775.7 260.7 L776.8 258.7 L777.8 256.8 L778.8 255.0 L779.9 253.2 L780.9 251.4 L781.9 249.7 L783.0 248.1 L784.0 246.5 L785.0 244.9 L786.0 243.4 L787.1 242.0 L788.1 240.5 L789.1 239.2 L790.1 237.9 L791.2 236.6 L792.2 235.4 L793.2 234.2 L794.2 233.1 L795.2 232.0 L796.3 231.0 L797.3 230.0 L798.3 229.1 L799.3 228.2 L800.4 227.4 L801.4 226.6 L802.4 225.9 L803.4 225.2 L804.4 224.6 L805.5 224.0 L806.5 223.5 L807.5 223.0 L808.5 222.6 L809.6 222.2 L810.6 221.8 L811.6 221.5 L812.6 221.3 L813.7 221.1 L814.7 221.0 L815.7 220.9 L816.7 220.8 L817.8 220.8 L818.8 220.9 L819.8 221.0 L820.8 221.1 L821.9 221.3 L822.9 221.5 L823.9 221.8 L824.9 222.2 L826.0 222.6 L827.0 223.0 L828.0 223.5 L829.1 224.0 L830.1 224.6 L831.1 225.2 L832.1 225.9 L833.2 226.6 L834.2 227.4 L835.2 228.2 L836.3 229.1 L837.3 230.0 L838.3 231.0 L839.4 232.0 L840.4 233.1 L841.4 234.2 L842.5 235.4 L843.5 236.6 L844.6 237.9 L845.6 239.2 L846.6 240.5 L847.7 242.0 L848.7 243.4 L849.8 244.9 L850.8 246.5 L851.8 248.1 L852.9 249.7 L853.9 251.4 L855.0 253.2 L856.0 255.0 L857.1 256.8 L858.1 258.7 L859.2 260.7 L860.2 262.7 L861.3 264.7 L862.3 266.8 L863.4 268.9 L864.5 271.1 L865.5 273.4 L866.6 275.6 L867.7 278.0 L868.7 280.4 L869.8 282.8 L870.9 285.3 L872.0 287.8 L873.0 290.4 L874.1 293.0 L875.2 295.7 L876.3 298.4 L877.4 301.2 L878.5 304.0 L879.6 306.8 L880.7 309.8 L881.8 312.7 L882.9 315.7 L884.0 318.8 L885.1 321.9 L886.2 325.1 L887.3 328.3 L888.4 331.5 L889.6 334.8 L890.7 338.2 L891.8 341.6 L893.0 345.0 L894.1 348.5 L895.2 352.1 L896.4 355.7 L897.6 359.3 L898.7 363.0 L899.9 366.8 L901.1 370.6 L902.2 374.4 L903.4 378.3 L904.6 382.2 L905.8 386.2 L907.0 390.3 L908.2 394.3 L909.4 398.5 L910.6 402.6 L911.8 406.9 L913.0 411.2 L914.3 415.5 L915.5 419.9 L916.8 424.3 L918.0 428.8 L919.3 433.3 L920.5 437.8 L921.8 442.5 L923.1 447.1 L924.3 451.8 L925.6 456.6 L926.9 461.4 L928.2 466.3 L929.5 471.2 L930.8 476.1 L932.2 481.2 L933.5 486.2 L934.8 491.3 L936.1 496.5 L937.5 501.7 L938.8 506.9 L940.2 512.2 L941.5 517.6 L942.9 523.0 L944.3 528.4 L945.7 533.9 L947.0 539.4 L948.4 545.0 L949.8 550.7 L951.2 556.3 L952.6 562.1 L954.0 567.9 L955.4 573.7 L956.8 579.6 L958.2 585.5 L959.6 591.5 L961.1 597.5 L962.5 603.6 L963.9 609.7 L965.3 615.9 L966.8 622.1 L968.2 628.4 L969.6 634.7 L971.0 641.1 L972.5 647.5 L973.9 654.0 L975.3 660.5 L976.7 667.0 L978.1 673.6 L979.5 680.3 L980.9 687.0 L982.3 693.8 L983.7 700.6 L985.1 707.4 L986.5 714.3 L987.8 721.3 L989.2 728.3 L990.6 735.3 L991.9 742.4 L993.2 749.6 L994.5 756.8 L995.8 764.0"/><path d="M683.6 764.0 L685.3 756.9 L686.9 749.8 L688.6 742.8 L690.2 735.9 L691.8 729.0 L693.5 722.1 L695.1 715.3 L696.8 708.5 L698.4 701.8 L700.0 695.1 L701.7 688.5 L703.3 681.9 L704.9 675.4 L706.5 668.9 L708.2 662.5 L709.8 656.1 L711.4 649.8 L713.0 643.5 L714.6 637.2 L716.2 631.0 L717.8 624.9 L719.3 618.8 L720.9 612.7 L722.5 606.7 L724.0 600.8 L725.6 594.9 L727.1 589.0 L728.7 583.2 L730.2 577.4 L731.7 571.7 L733.3 566.0 L734.8 560.4 L736.3 554.8 L737.8 549.3 L739.3 543.8 L740.8 538.4 L742.2 533.0 L743.7 527.7 L745.2 522.4 L746.6 517.1 L748.1 511.9 L749.5 506.8 L751.0 501.7 L752.4 496.6 L753.8 491.6 L755.3 486.7 L756.7 481.8 L758.1 476.9 L759.5 472.1 L760.9 467.3 L762.3 462.6 L763.7 457.9 L765.1 453.3 L766.4 448.7 L767.8 444.2 L769.2 439.7 L770.5 435.3 L771.9 430.9 L773.3 426.6 L774.6 422.3 L775.9 418.0 L777.3 413.8 L778.6 409.7 L780.0 405.6 L781.3 401.6 L782.6 397.5 L783.9 393.6 L785.3 389.7 L786.6 385.8 L787.9 382.0 L789.2 378.2 L790.5 374.5 L791.8 370.9 L793.1 367.2 L794.4 363.7 L795.7 360.1 L797.0 356.7 L798.3 353.2 L799.6 349.8 L800.9 346.5 L802.2 343.2 L803.5 340.0 L804.8 336.8 L806.1 333.6 L807.4 330.5 L808.7 327.5 L809.9 324.5 L811.2 321.5 L812.5 318.6 L813.8 315.8 L815.1 313.0 L816.4 310.2 L817.7 307.5 L818.9 304.8 L820.2 302.2 L821.5 299.6 L822.8 297.1 L824.1 294.6 L825.4 292.2 L826.6 289.8 L827.9 287.5 L829.2 285.2 L830.5 282.9 L831.8 280.7 L833.1 278.6 L834.4 276.5 L835.6 274.4 L836.9 272.4 L838.2 270.5 L839.5 268.6 L840.8 266.7 L842.1 264.9 L843.4 263.1 L844.7 261.4 L846.0 259.8 L847.3 258.1 L848.5 256.6 L849.8 255.0 L851.1 253.6 L852.4 252.1 L853.7 250.8 L855.0 249.4 L856.3 248.1 L857.6 246.9 L858.9 245.7 L860.2 244.6 L861.5 243.5 L862.8 242.4 L864.1 241.4 L865.4 240.5 L866.7 239.6 L868.0 238.7 L869.3 237.9 L870.6 237.1 L871.9 236.4 L873.2 235.7 L874.5 235.1 L875.8 234.6 L877.1 234.0 L878.5 233.6 L879.8 233.1 L881.1 232.7 L882.4 232.4 L883.7 232.1 L885.0 231.9 L886.3 231.7 L887.6 231.5 L888.9 231.5 L890.2 231.4 L891.5 231.4 L892.8 231.5 L894.1 231.5 L895.4 231.7 L896.7 231.9 L898.0 232.1 L899.3 232.4 L900.6 232.7 L901.9 233.1 L903.2 233.6 L904.5 234.0 L905.8 234.6 L907.1 235.1 L908.4 235.7 L909.7 236.4 L911.0 237.1 L912.3 237.9 L913.6 238.7 L914.9 239.6 L916.2 240.5 L917.5 241.4 L918.8 242.4 L920.1 243.5 L921.3 244.6 L922.6 245.7 L923.9 246.9 L925.2 248.1 L926.5 249.4 L927.8 250.8 L929.1 252.1 L930.4 253.6 L931.6 255.0 L932.9 256.6 L934.2 258.1 L935.5 259.8 L936.8 261.4 L938.1 263.1 L939.4 264.9 L940.6 266.7 L941.9 268.6 L943.2 270.5 L944.5 272.4 L945.8 274.4 L947.0 276.5 L948.3 278.6 L949.6 280.7 L950.9 282.9 L952.2 285.2 L953.5 287.5 L954.7 289.8 L956.0 292.2 L957.3 294.6 L958.6 297.1 L959.9 299.6 L961.2 302.2 L962.5 304.8 L963.8 307.5 L965.0 310.2 L966.3 313.0 L967.6 315.8 L968.9 318.6 L970.2 321.5 L971.5 324.5 L972.8 327.5 L974.1 330.5 L975.4 333.6 L976.7 336.8 L978.0 340.0 L979.4 343.2 L980.7 346.5 L982.0 349.8 L983.3 353.2 L984.6 356.7 L986.0 360.1 L987.3 363.7 L988.6 367.2 L990.0 370.9 L991.3 374.5 L992.6 378.2 L994.0 382.0 L995.3 385.8 L996.7 389.7 L998.1 393.6 L999.4 397.5 L1000.8 401.6 L1002.2 405.6 L1003.5 409.7 L1004.9 413.8 L1006.3 418.0 L1007.7 422.3 L1009.1 426.6 L1010.5 430.9 L1011.9 435.3 L1013.3 439.7 L1014.7 444.2 L1016.2 448.7 L1017.6 453.3 L1019.0 457.9 L1020.5 462.6 L1021.9 467.3 L1023.3 472.1 L1024.8 476.9 L1026.3 481.8 L1027.7 486.7 L1029.2 491.6 L1030.7 496.6 L1032.1 501.7 L1033.6 506.8 L1035.1 511.9 L1036.6 517.1 L1038.1 522.4 L1039.6 527.7 L1041.1 533.0 L1042.6 538.4 L1044.1 543.8 L1045.7 549.3 L1047.2 554.8 L1048.7 560.4 L1050.2 566.0 L1051.8 571.7 L1053.3 577.4 L1054.8 583.2 L1056.4 589.0 L1057.9 594.9 L1059.4 600.8 L1061.0 606.7 L1062.5 612.7 L1064.1 618.8 L1065.6 624.9 L1067.1 631.0 L1068.7 637.2 L1070.2 643.5 L1071.7 649.8 L1073.2 656.1 L1074.7 662.5 L1076.3 668.9 L1077.8 675.4 L1079.3 681.9 L1080.8 688.5 L1082.2 695.1 L1083.7 701.8 L1085.2 708.5 L1086.6 715.3 L1088.0 722.1 L1089.5 729.0 L1090.9 735.9 L1092.3 742.8 L1093.6 749.8 L1095.0 756.9 L1096.3 764.0"/><path d="M729.4 764.0 L730.8 757.0 L732.2 750.1 L733.7 743.2 L735.1 736.3 L736.6 729.5 L738.2 722.7 L739.7 716.0 L741.3 709.4 L742.8 702.8 L744.4 696.2 L746.1 689.7 L747.7 683.2 L749.3 676.7 L751.0 670.4 L752.7 664.0 L754.3 657.7 L756.0 651.5 L757.7 645.3 L759.4 639.2 L761.1 633.1 L762.8 627.0 L764.5 621.0 L766.3 615.0 L768.0 609.1 L769.7 603.2 L771.4 597.4 L773.1 591.7 L774.8 585.9 L776.5 580.3 L778.2 574.6 L780.0 569.0 L781.7 563.5 L783.4 558.0 L785.1 552.6 L786.7 547.2 L788.4 541.8 L790.1 536.5 L791.8 531.3 L793.5 526.0 L795.1 520.9 L796.8 515.8 L798.5 510.7 L800.1 505.7 L801.8 500.7 L803.4 495.8 L805.0 490.9 L806.6 486.1 L808.3 481.3 L809.9 476.5 L811.5 471.8 L813.1 467.2 L814.7 462.6 L816.3 458.0 L817.9 453.5 L819.4 449.1 L821.0 444.7 L822.6 440.3 L824.1 436.0 L825.7 431.7 L827.3 427.5 L828.8 423.3 L830.4 419.2 L831.9 415.1 L833.4 411.1 L835.0 407.1 L836.5 403.1 L838.0 399.2 L839.5 395.4 L841.0 391.6 L842.5 387.8 L844.1 384.1 L845.6 380.5 L847.1 376.8 L848.6 373.3 L850.1 369.7 L851.6 366.3 L853.1 362.8 L854.6 359.5 L856.1 356.1 L857.5 352.9 L859.0 349.6 L860.5 346.4 L862.0 343.3 L863.5 340.2 L865.0 337.1 L866.5 334.1 L868.0 331.2 L869.5 328.3 L871.0 325.4 L872.4 322.6 L873.9 319.8 L875.4 317.1 L876.9 314.4 L878.4 311.8 L879.9 309.2 L881.4 306.7 L882.9 304.2 L884.4 301.7 L885.9 299.3 L887.4 297.0 L888.9 294.7 L890.4 292.4 L891.9 290.2 L893.5 288.1 L895.0 286.0 L896.5 283.9 L898.0 281.9 L899.5 279.9 L901.1 278.0 L902.6 276.1 L904.1 274.3 L905.7 272.5 L907.2 270.8 L908.7 269.1 L910.3 267.4 L911.8 265.8 L913.4 264.3 L914.9 262.8 L916.5 261.3 L918.0 259.9 L919.6 258.6 L921.2 257.2 L922.7 256.0 L924.3 254.8 L925.9 253.6 L927.4 252.5 L929.0 251.4 L930.6 250.3 L932.2 249.4 L933.7 248.4 L935.3 247.5 L936.9 246.7 L938.5 245.9 L940.1 245.1 L941.7 244.4 L943.3 243.8 L944.8 243.2 L946.4 242.6 L948.0 242.1 L949.6 241.6 L951.2 241.2 L952.8 240.8 L954.4 240.5 L956.0 240.2 L957.6 240.0 L959.2 239.8 L960.8 239.6 L962.4 239.6 L964.0 239.5 L965.6 239.5 L967.2 239.6 L968.8 239.6 L970.4 239.8 L972.0 240.0 L973.6 240.2 L975.2 240.5 L976.8 240.8 L978.4 241.2 L980.0 241.6 L981.6 242.1 L983.2 242.6 L984.8 243.2 L986.4 243.8 L988.0 244.4 L989.6 245.1 L991.2 245.9 L992.7 246.7 L994.3 247.5 L995.9 248.4 L997.5 249.4 L999.1 250.3 L1000.6 251.4 L1002.2 252.5 L1003.8 253.6 L1005.3 254.8 L1006.9 256.0 L1008.5 257.2 L1010.0 258.6 L1011.6 259.9 L1013.1 261.3 L1014.7 262.8 L1016.2 264.3 L1017.7 265.8 L1019.3 267.4 L1020.8 269.1 L1022.3 270.8 L1023.9 272.5 L1025.4 274.3 L1026.9 276.1 L1028.4 278.0 L1030.0 279.9 L1031.5 281.9 L1033.0 283.9 L1034.5 286.0 L1036.0 288.1 L1037.5 290.2 L1039.0 292.4 L1040.5 294.7 L1042.0 297.0 L1043.5 299.3 L1045.0 301.7 L1046.5 304.2 L1048.0 306.7 L1049.4 309.2 L1050.9 311.8 L1052.4 314.4 L1053.9 317.1 L1055.4 319.8 L1056.8 322.6 L1058.3 325.4 L1059.8 328.3 L1061.3 331.2 L1062.7 334.1 L1064.2 337.1 L1065.7 340.2 L1067.2 343.3 L1068.6 346.4 L1070.1 349.6 L1071.6 352.9 L1073.1 356.1 L1074.5 359.5 L1076.0 362.8 L1077.5 366.3 L1079.0 369.7 L1080.4 373.3 L1081.9 376.8 L1083.4 380.5 L1084.9 384.1 L1086.4 387.8 L1087.9 391.6 L1089.4 395.4 L1090.9 399.2 L1092.4 403.1 L1093.9 407.1 L1095.4 411.1 L1096.9 415.1 L1098.4 419.2 L1099.9 423.3 L1101.4 427.5 L1103.0 431.7 L1104.5 436.0 L1106.0 440.3 L1107.6 444.7 L1109.1 449.1 L1110.7 453.5 L1112.3 458.0 L1113.8 462.6 L1115.4 467.2 L1117.0 471.8 L1118.6 476.5 L1120.1 481.3 L1121.7 486.1 L1123.3 490.9 L1124.9 495.8 L1126.6 500.7 L1128.2 505.7 L1129.8 510.7 L1131.4 515.8 L1133.1 520.9 L1134.7 526.0 L1136.4 531.3 L1138.0 536.5 L1139.7 541.8 L1141.4 547.2 L1143.0 552.6 L1144.7 558.0 L1146.4 563.5 L1148.1 569.0 L1149.8 574.6 L1151.5 580.3 L1153.2 585.9 L1154.9 591.7 L1156.6 597.4 L1158.3 603.2 L1160.0 609.1 L1161.7 615.0 L1163.4 621.0 L1165.1 627.0 L1166.8 633.1 L1168.5 639.2 L1170.2 645.3 L1171.8 651.5 L1173.5 657.7 L1175.2 664.0 L1176.9 670.4 L1178.5 676.7 L1180.2 683.2 L1181.8 689.7 L1183.4 696.2 L1185.1 702.8 L1186.7 709.4 L1188.2 716.0 L1189.8 722.7 L1191.3 729.5 L1192.9 736.3 L1194.3 743.2 L1195.8 750.1 L1197.3 757.0 L1198.7 764.0"/></g>
<g font-family="'Liberation Serif', serif" fill="#000"><text transform="translate(206.73 148.99) scale(1.0009 1)" font-size="60.74">10</text><text transform="translate(267.06 126.96) scale(1.0517 1)" font-size="44.44">0</text><text transform="translate(169.83 253.49) scale(1.0009 1)" font-size="60.74">10</text><text transform="translate(230.88 231.28) scale(1.9056 1)" font-size="32.73">−</text><text transform="translate(266.25 231.50) scale(1.0723 1)" font-size="44.39">1</text><text transform="translate(169.83 357.99) scale(1.0009 1)" font-size="60.74">10</text><text transform="translate(230.88 335.78) scale(1.9056 1)" font-size="32.73">−</text><text transform="translate(267.06 336.40) scale(1.0754 1)" font-size="45.00">2</text><text transform="translate(169.83 462.49) scale(1.0009 1)" font-size="60.74">10</text><text transform="translate(230.88 440.28) scale(1.9056 1)" font-size="32.73">−</text><text transform="translate(266.87 440.44) scale(1.0274 1)" font-size="46.12">3</text><text transform="translate(169.83 566.99) scale(1.0009 1)" font-size="60.74">10</text><text transform="translate(230.88 544.78) scale(1.9056 1)" font-size="32.73">−</text><text transform="translate(268.37 545.40) scale(0.9267 1)" font-size="45.00">4</text><text transform="translate(169.83 671.49) scale(1.0009 1)" font-size="60.74">10</text><text transform="translate(230.88 649.28) scale(1.9056 1)" font-size="32.73">−</text><text transform="translate(266.37 649.45) scale(1.0704 1)" font-size="44.66">5</text><text transform="translate(169.83 775.99) scale(1.0009 1)" font-size="60.74">10</text><text transform="translate(230.88 753.78) scale(1.9056 1)" font-size="32.73">−</text><text transform="translate(267.18 753.96) scale(1.0283 1)" font-size="44.33">6</text><text transform="translate(402.33 829.93) scale(2.4340 1)" font-size="26.67">-</text><text transform="translate(424.36 837.58) scale(0.9970 1)" font-size="61.78">10</text><text transform="translate(558.03 837.58) scale(1.0013 1)" font-size="61.78">0</text><text transform="translate(658.33 837.58) scale(1.0227 1)" font-size="61.78">10</text><text transform="translate(779.30 837.58) scale(0.9730 1)" font-size="61.78">20</text><text transform="translate(896.98 837.58) scale(0.9783 1)" font-size="61.78">30</text><text transform="translate(1016.82 837.58) scale(0.9474 1)" font-size="61.78">40</text><text transform="translate(1132.34 837.58) scale(0.9890 1)" font-size="61.78">50</text><text transform="translate(681.15 928.31) scale(0.9920 1)" font-size="58.74" font-style="italic">ω</text><text transform="translate(725.99 928.90) scale(1.1349 1)" font-size="60.65" font-style="italic">z</text><text transform="translate(756.30 941.90) scale(0.9398 1)" font-size="90.45">/</text><text transform="translate(781.31 928.85) scale(0.9372 1)" font-size="65.11" font-style="italic">U</text><text transform="translate(834.77 928.53) scale(0.7941 1)" font-size="67.00">(</text><text transform="translate(857.98 929.00) scale(1.1143 1)" font-size="61.30" font-style="italic">z</text><text transform="translate(886.32 928.53) scale(0.8381 1)" font-size="67.00">)</text><g transform="rotate(-90)"><text transform="translate(-815.61 95.00) scale(1.1740 1)" font-size="62.14" font-style="italic">E</text><text transform="translate(-772.42 103.60) scale(0.9043 1)" font-size="44.55">1</text><text transform="translate(-750.42 103.60) scale(0.9549 1)" font-size="44.55">1</text><text transform="translate(-719.45 95.70) scale(0.7535 1)" font-size="68.11">(</text><text transform="translate(-700.49 95.00) scale(1.0554 1)" font-size="59.71" font-style="italic">k</text><text transform="translate(-669.98 104.00) scale(1.0210 1)" font-size="44.70">1</text><text transform="translate(-639.10 96.06) scale(0.6280 1)" font-size="72.94">,</text><text transform="translate(-617.84 95.41) scale(0.9796 1)" font-size="59.16" font-style="italic">ω</text><text transform="translate(-572.83 97.53) scale(0.6967 1)" font-size="61.12">;</text><text transform="translate(-546.82 95.90) scale(1.1263 1)" font-size="60.65" font-style="italic">z</text><text transform="translate(-517.87 95.45) scale(0.8798 1)" font-size="66.89">)</text><text transform="translate(-497.97 95.26) scale(0.9731 1)" font-size="63.61" font-style="italic">U</text><text transform="translate(-443.54 95.70) scale(0.7479 1)" font-size="68.11">(</text><text transform="translate(-420.64 96.20) scale(1.0695 1)" font-size="62.17" font-style="italic">z</text><text transform="translate(-393.77 95.29) scale(0.9208 1)" font-size="67.67">)</text><text transform="translate(-366.20 108.60) scale(0.9492 1)" font-size="89.55">/</text><text transform="translate(-335.96 95.70) scale(0.7923 1)" font-size="68.11">(</text><text transform="translate(-313.72 95.20) scale(1.1499 1)" font-size="62.44" font-style="italic">E</text><text transform="translate(-271.16 103.60) scale(0.9843 1)" font-size="43.79">1</text><text transform="translate(-248.26 103.60) scale(0.9843 1)" font-size="43.79">1</text><text transform="translate(-215.24 95.70) scale(0.7479 1)" font-size="68.11">(</text><text transform="translate(-195.59 95.90) scale(1.0355 1)" font-size="60.86" font-style="italic">k</text><text transform="translate(-165.68 103.70) scale(0.9890 1)" font-size="45.00">1</text><text transform="translate(-136.16 97.53) scale(0.7389 1)" font-size="61.12">;</text><text transform="translate(-109.11 95.60) scale(1.1643 1)" font-size="59.57" font-style="italic">z</text><text transform="translate(-80.31 95.51) scale(0.8426 1)" font-size="67.56">)</text><text transform="translate(-54.91 95.60) scale(1.1643 1)" font-size="59.57" font-style="italic">z</text><text transform="translate(-26.22 95.51) scale(0.8483 1)" font-size="67.56">)</text></g></g>
</svg></body></html>
